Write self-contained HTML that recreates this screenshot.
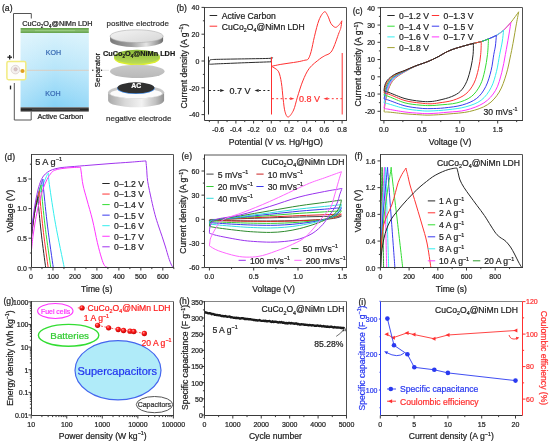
<!DOCTYPE html>
<html><head><meta charset="utf-8"><style>
html,body{margin:0;padding:0;background:#fff;}
body{width:550px;height:445px;overflow:hidden;}
svg{display:block;font-family:"Liberation Sans",sans-serif;filter:blur(0.35px);}
</style></head><body>
<svg width="550" height="445" viewBox="0 0 550 445" fill="#222">
<path d="M209.35,61.67C209.42,61.45 209.5,60.66 209.79,60.33C210.09,59.99 209.72,59.83 211.12,59.66C212.52,59.49 212.6,59.46 218.2,59.33C223.81,59.19 236.05,59.02 244.75,58.86C253.45,58.69 265.99,58.59 270.42,58.32C274.84,58.05 271.15,57.43 271.3,57.25" stroke="#2a2a2a" stroke-width="1" fill="none" />
<path d="M271.3,57.25C271.3,58.01 271.3,61.04 271.3,61.8" stroke="#2a2a2a" stroke-width="1" fill="none" />
<path d="M271.3,61.8C266.88,61.96 253.6,62.41 244.75,62.74C235.9,63.08 224.1,63.59 218.2,63.81C212.3,64.04 210.83,64.44 209.35,64.08C207.88,63.72 209.35,62.07 209.35,61.67" stroke="#2a2a2a" stroke-width="1" fill="none" />
<line x1="208.5" y1="56.5" x2="208.5" y2="114.5" stroke="#2a2a2a"/>
<path d="M271.3,66.36C272.78,66.05 277.2,65.02 280.15,64.48C283.1,63.95 286.05,63.59 289,63.14C291.95,62.7 295.2,62.3 297.85,61.8C300.5,61.31 303.2,60.66 304.93,60.2C306.66,59.73 307.17,60.42 308.2,58.99C309.24,57.56 310.08,55.39 311.12,51.62C312.17,47.85 313.18,41.61 314.49,36.34C315.8,31.07 317.35,24.08 319,20C320.65,15.91 322.91,12.47 324.4,11.82C325.89,11.17 326.83,14.14 327.94,16.11C329.05,18.08 329.78,21.74 331.04,23.61C332.29,25.49 334.06,27.23 335.46,27.37C336.86,27.5 338.38,25.51 339.44,24.42C340.51,23.32 341.44,21.4 341.83,20.8" stroke="#ff3030" stroke-width="1" fill="none" />
<path d="M341.83,20.8C341.66,22.03 341.24,26.18 340.77,28.17C340.3,30.16 340.49,28.93 339,32.73C337.51,36.52 334.27,47.09 331.83,50.95C329.4,54.81 326.45,54.55 324.4,55.91C322.35,57.27 322.04,57.07 319.53,59.12C317.03,61.18 312.14,64.6 309.36,68.24C306.57,71.88 304.8,76.14 302.81,80.97C300.81,85.79 298.94,92.33 297.41,97.18C295.87,102.03 295.12,106.74 293.6,110.04C292.08,113.35 289.72,116.72 288.29,117.01C286.86,117.3 285.87,114.78 285.02,111.79C284.16,108.79 283.76,103.9 283.16,99.06C282.55,94.21 282.14,87.24 281.39,82.71C280.64,78.17 279.88,74.36 278.65,71.85C277.41,69.35 275.18,68.62 273.95,67.7C272.73,66.78 271.74,66.58 271.3,66.36" stroke="#ff3030" stroke-width="1" fill="none" />
<line x1="271.5" y1="57" x2="271.5" y2="114.5" stroke="#ff3030"/>
<line x1="342.2" y1="53" x2="342.2" y2="114.5" stroke="#ff3030"/>
<line x1="209" y1="90.5" x2="220" y2="90.5" stroke="#222" stroke-dasharray="1.9,2.4"/>
<path d="M220.2,89.1 L224.4,90.5 L220.2,91.9 Z" stroke="none" stroke-width="0" fill="#222" />
<line x1="259" y1="90.5" x2="271" y2="90.5" stroke="#222" stroke-dasharray="1.9,2.4"/>
<path d="M258.7,89.1 L254.5,90.5 L258.7,91.9 Z" stroke="none" stroke-width="0" fill="#222" />
<text x="229.6" y="94.14" font-size="9" stroke="#222" stroke-width="0.22">0.7 V</text>
<line x1="272" y1="98.7" x2="290" y2="98.7" stroke="#ff3030" stroke-dasharray="1.9,2.4"/>
<path d="M290.2,97.3 L294.4,98.7 L290.2,100.1 Z" stroke="none" stroke-width="0" fill="#ff3030" />
<line x1="327.5" y1="98.7" x2="342" y2="98.7" stroke="#ff3030" stroke-dasharray="1.9,2.4"/>
<path d="M327.6,97.3 L323.4,98.7 L327.6,100.1 Z" stroke="none" stroke-width="0" fill="#ff3030" />
<text x="299" y="102.14" font-size="9" fill="#ff3030" stroke="#ff3030" stroke-width="0.22">0.8 V</text>
<line x1="209.6" y1="15.5" x2="217.2" y2="15.5" stroke="#2a2a2a"/>
<text x="221.8" y="18.9" font-size="8.6" stroke="#222" stroke-width="0.22">Active Carbon</text>
<line x1="209.6" y1="26.2" x2="217.2" y2="26.2" stroke="#ff3030"/>
<text x="221.8" y="29.5" font-size="8.6" stroke="#222" stroke-width="0.22">CuCo<tspan font-size="5.33" dy="2.41">2</tspan><tspan dy="-2.41">O</tspan><tspan font-size="5.33" dy="2.41">4</tspan><tspan dy="-2.41">@NiMn LDH</tspan></text>
<line x1="204.5" y1="7.5" x2="346.5" y2="7.5" stroke="#555"/>
<line x1="346.5" y1="7.5" x2="346.5" y2="120.5" stroke="#505050"/>
<line x1="204.5" y1="120.5" x2="347" y2="120.5" stroke="#3a3a3a"/>
<line x1="204.5" y1="7" x2="204.5" y2="120.5" stroke="#3a3a3a"/>
<line x1="218.2" y1="120.5" x2="218.2" y2="123.5" stroke="#3a3a3a"/>
<line x1="235.9" y1="120.5" x2="235.9" y2="123.5" stroke="#3a3a3a"/>
<line x1="253.6" y1="120.5" x2="253.6" y2="123.5" stroke="#3a3a3a"/>
<line x1="271.3" y1="120.5" x2="271.3" y2="123.5" stroke="#3a3a3a"/>
<line x1="289" y1="120.5" x2="289" y2="123.5" stroke="#3a3a3a"/>
<line x1="306.7" y1="120.5" x2="306.7" y2="123.5" stroke="#3a3a3a"/>
<line x1="324.4" y1="120.5" x2="324.4" y2="123.5" stroke="#3a3a3a"/>
<line x1="342.1" y1="120.5" x2="342.1" y2="123.5" stroke="#3a3a3a"/>
<line x1="209.35" y1="120.5" x2="209.35" y2="122.1" stroke="#3a3a3a"/>
<line x1="227.05" y1="120.5" x2="227.05" y2="122.1" stroke="#3a3a3a"/>
<line x1="244.75" y1="120.5" x2="244.75" y2="122.1" stroke="#3a3a3a"/>
<line x1="262.45" y1="120.5" x2="262.45" y2="122.1" stroke="#3a3a3a"/>
<line x1="280.15" y1="120.5" x2="280.15" y2="122.1" stroke="#3a3a3a"/>
<line x1="297.85" y1="120.5" x2="297.85" y2="122.1" stroke="#3a3a3a"/>
<line x1="315.55" y1="120.5" x2="315.55" y2="122.1" stroke="#3a3a3a"/>
<line x1="333.25" y1="120.5" x2="333.25" y2="122.1" stroke="#3a3a3a"/>
<line x1="204.5" y1="7.4" x2="201.5" y2="7.4" stroke="#3a3a3a"/>
<line x1="204.5" y1="34.2" x2="201.5" y2="34.2" stroke="#3a3a3a"/>
<line x1="204.5" y1="61" x2="201.5" y2="61" stroke="#3a3a3a"/>
<line x1="204.5" y1="87.8" x2="201.5" y2="87.8" stroke="#3a3a3a"/>
<line x1="204.5" y1="114.6" x2="201.5" y2="114.6" stroke="#3a3a3a"/>
<line x1="204.5" y1="20.8" x2="202.9" y2="20.8" stroke="#3a3a3a"/>
<line x1="204.5" y1="47.6" x2="202.9" y2="47.6" stroke="#3a3a3a"/>
<line x1="204.5" y1="74.4" x2="202.9" y2="74.4" stroke="#3a3a3a"/>
<line x1="204.5" y1="101.2" x2="202.9" y2="101.2" stroke="#3a3a3a"/>
<text x="0" y="0" font-size="7" text-anchor="middle" transform="translate(218.2 132.05) scale(1 1.13)" stroke="#222" stroke-width="0.22">-0.6</text>
<text x="0" y="0" font-size="7" text-anchor="middle" transform="translate(235.9 132.05) scale(1 1.13)" stroke="#222" stroke-width="0.22">-0.4</text>
<text x="0" y="0" font-size="7" text-anchor="middle" transform="translate(253.6 132.05) scale(1 1.13)" stroke="#222" stroke-width="0.22">-0.2</text>
<text x="0" y="0" font-size="7" text-anchor="middle" transform="translate(271.3 132.05) scale(1 1.13)" stroke="#222" stroke-width="0.22">0.0</text>
<text x="0" y="0" font-size="7" text-anchor="middle" transform="translate(289 132.05) scale(1 1.13)" stroke="#222" stroke-width="0.22">0.2</text>
<text x="0" y="0" font-size="7" text-anchor="middle" transform="translate(306.7 132.05) scale(1 1.13)" stroke="#222" stroke-width="0.22">0.4</text>
<text x="0" y="0" font-size="7" text-anchor="middle" transform="translate(324.4 132.05) scale(1 1.13)" stroke="#222" stroke-width="0.22">0.6</text>
<text x="0" y="0" font-size="7" text-anchor="middle" transform="translate(342.1 132.05) scale(1 1.13)" stroke="#222" stroke-width="0.22">0.8</text>
<text x="0" y="0" font-size="7" text-anchor="end" transform="translate(199.4 10.25) scale(1 1.13)" stroke="#222" stroke-width="0.22">40</text>
<text x="0" y="0" font-size="7" text-anchor="end" transform="translate(199.4 37.05) scale(1 1.13)" stroke="#222" stroke-width="0.22">20</text>
<text x="0" y="0" font-size="7" text-anchor="end" transform="translate(199.4 63.85) scale(1 1.13)" stroke="#222" stroke-width="0.22">0</text>
<text x="0" y="0" font-size="7" text-anchor="end" transform="translate(199.4 90.65) scale(1 1.13)" stroke="#222" stroke-width="0.22">-20</text>
<text x="0" y="0" font-size="7" text-anchor="end" transform="translate(199.4 117.45) scale(1 1.13)" stroke="#222" stroke-width="0.22">-40</text>
<text x="176.4" y="11" font-size="8.6" stroke="#222" stroke-width="0.22">(b)</text>
<text x="186.5" y="66" font-size="8.6" text-anchor="middle" fill="#222" transform="rotate(-90 186.5 66)" stroke="#222" stroke-width="0.22">Current density (A g<tspan font-size="5.33" dy="-3.61">−1</tspan><tspan dy="3.61">)</tspan></text>
<text x="275.9" y="145.2" font-size="8.6" text-anchor="middle" fill="#222" stroke="#222" stroke-width="0.22">Potential (V <tspan font-style="italic">vs.</tspan> Hg/HgO)</text>
<path d="M384,111.6C384.27,109.83 385.02,104.18 385.6,101C386.18,97.82 386.83,94.92 387.5,92.5C388.17,90.08 388.77,88.37 389.6,86.5C390.43,84.63 391.27,82.92 392.5,81.3C393.73,79.68 394.83,78.45 397,76.8C399.17,75.15 402.5,73.13 405.5,71.4C408.5,69.67 411.6,67.92 415,66.4C418.4,64.88 422.98,63.45 425.9,62.3C428.82,61.15 430.32,60.5 432.5,59.5C434.68,58.5 436.83,57.47 439,56.3C441.17,55.13 443.13,53.68 445.5,52.5C447.87,51.32 450.1,50.3 453.2,49.2C456.3,48.1 460.73,46.87 464.1,45.9C467.47,44.93 470.53,44.12 473.4,43.4C476.27,42.68 478.78,42.35 481.3,41.6C483.82,40.85 485.98,39.93 488.5,38.9C491.02,37.87 493.88,36.85 496.4,35.4C498.92,33.95 501.18,32.37 503.6,30.2C506.02,28.03 508.38,25.47 510.9,22.4C513.42,19.33 517.4,13.57 518.7,11.8" stroke="#a0a030" stroke-width="1" fill="none" />
<path d="M518.7,11.8C518.28,14 517.05,20.3 516.2,25C515.35,29.7 514.5,35.1 513.6,40C512.7,44.9 512.02,48.72 510.8,54.4C509.58,60.08 508.23,67.82 506.3,74.1C504.37,80.38 502.33,87 499.2,92.1C496.07,97.2 492.45,101.47 487.5,104.7C482.55,107.93 476.08,109.95 469.5,111.5C462.92,113.05 454.58,113.4 448,114C441.42,114.6 434.67,114.97 430,115.1C425.33,115.23 424.17,115.02 420,114.8C415.83,114.58 410.17,114.25 405,113.8C399.83,113.35 392.27,112.4 389,112.1C385.73,111.8 386.23,112.08 385.4,112C384.57,111.92 384.23,111.67 384,111.6" stroke="#a0a030" stroke-width="1" fill="none" />
<path d="M384,108.3C384.23,106.71 384.88,101.63 385.4,98.75C385.93,95.87 386.51,93.23 387.15,91.02C387.79,88.8 388.4,87.18 389.23,85.45C390.07,83.72 390.9,82.14 392.17,80.62C393.43,79.09 394.62,77.85 396.83,76.28C399.04,74.72 402.39,72.87 405.42,71.22C408.44,69.56 411.59,67.84 415,66.35C418.41,64.86 422.98,63.44 425.9,62.3C428.82,61.16 430.32,60.5 432.5,59.5C434.68,58.5 436.83,57.47 439,56.3C441.17,55.13 443.13,53.68 445.5,52.5C447.87,51.32 450.1,50.3 453.2,49.2C456.3,48.1 460.73,46.87 464.1,45.9C467.47,44.93 470.53,44.12 473.4,43.4C476.27,42.68 478.78,42.35 481.3,41.6C483.82,40.85 485.98,39.93 488.5,38.9C491.02,37.87 493.88,36.85 496.4,35.4C498.92,33.95 501.18,32.37 503.6,30.2C506.02,28.03 509.68,23.7 510.9,22.4" stroke="#ff33ff" stroke-width="1" fill="none" />
<path d="M510.9,22.4C510.53,24.67 509.62,30.67 508.7,36C507.78,41.33 506.55,48.35 505.4,54.4C504.25,60.45 503.43,66.32 501.8,72.3C500.17,78.28 498.58,85.2 495.6,90.3C492.62,95.4 488.85,99.6 483.9,102.9C478.95,106.2 471.88,108.55 465.9,110.1C459.92,111.65 453.98,111.62 448,112.2C442.02,112.78 434.67,113.42 430,113.6C425.33,113.78 424.17,113.57 420,113.3C415.83,113.03 410.17,112.67 405,112C399.83,111.33 392.27,109.85 389,109.3C385.73,108.75 386.23,108.87 385.4,108.7C384.57,108.53 384.23,108.37 384,108.3" stroke="#ff33ff" stroke-width="1" fill="none" />
<path d="M384,102.8C384.2,101.75 384.73,98.71 385.2,96.5C385.67,94.29 386.19,91.55 386.8,89.53C387.41,87.52 388.03,86 388.87,84.4C389.71,82.8 390.53,81.37 391.83,79.93C393.13,78.49 394.42,77.25 396.67,75.77C398.92,74.28 402.28,72.61 405.33,71.03C408.39,69.46 411.57,67.76 415,66.3C418.43,64.84 422.98,63.43 425.9,62.3C428.82,61.17 430.32,60.5 432.5,59.5C434.68,58.5 436.83,57.47 439,56.3C441.17,55.13 443.13,53.68 445.5,52.5C447.87,51.32 450.1,50.3 453.2,49.2C456.3,48.1 460.73,46.87 464.1,45.9C467.47,44.93 470.53,44.12 473.4,43.4C476.27,42.68 478.78,42.35 481.3,41.6C483.82,40.85 485.98,39.93 488.5,38.9C491.02,37.87 493.88,36.85 496.4,35.4C498.92,33.95 502.4,31.07 503.6,30.2" stroke="#33eeee" stroke-width="1" fill="none" />
<path d="M503.6,30.2C503.37,32.17 502.85,37.97 502.2,42C501.55,46.03 500.65,49.5 499.7,54.4C498.75,59.3 497.93,65.87 496.5,71.4C495.07,76.93 493.65,82.8 491.1,87.6C488.55,92.4 485.4,97 481.2,100.2C477,103.4 471.43,105.22 465.9,106.8C460.37,108.38 453.98,109 448,109.7C442.02,110.4 434.67,110.85 430,111C425.33,111.15 424.17,111 420,110.6C415.83,110.2 410.17,109.7 405,108.6C399.83,107.5 392.27,104.9 389,104C385.73,103.1 386.23,103.4 385.4,103.2C384.57,103 384.23,102.87 384,102.8" stroke="#33eeee" stroke-width="1" fill="none" />
<path d="M384,98.8C384.17,98.04 384.59,96.04 385,94.25C385.41,92.46 385.87,89.87 386.45,88.05C387.03,86.23 387.66,84.82 388.5,83.35C389.34,81.88 390.17,80.6 391.5,79.25C392.83,77.9 394.21,76.65 396.5,75.25C398.79,73.85 402.17,72.35 405.25,70.85C408.33,69.35 411.56,67.67 415,66.25C418.44,64.83 422.98,63.42 425.9,62.3C428.82,61.17 430.32,60.5 432.5,59.5C434.68,58.5 436.83,57.47 439,56.3C441.17,55.13 443.13,53.68 445.5,52.5C447.87,51.32 450.1,50.3 453.2,49.2C456.3,48.1 460.73,46.87 464.1,45.9C467.47,44.93 470.53,44.12 473.4,43.4C476.27,42.68 478.78,42.35 481.3,41.6C483.82,40.85 485.98,39.93 488.5,38.9C491.02,37.87 495.08,35.98 496.4,35.4" stroke="#3a3aee" stroke-width="1" fill="none" />
<path d="M496.4,35.4C496.23,37.17 495.83,42.83 495.4,46C494.97,49.17 494.52,50.32 493.8,54.4C493.08,58.48 492.45,65.12 491.1,70.5C489.75,75.88 488.1,82.05 485.7,86.7C483.3,91.35 480.6,95.35 476.7,98.4C472.8,101.45 467.68,103.42 462.3,105C456.92,106.58 449.78,107.3 444.4,107.9C439.02,108.5 434.07,108.55 430,108.6C425.93,108.65 424.17,108.65 420,108.2C415.83,107.75 410.17,107.22 405,105.9C399.83,104.58 392.27,101.42 389,100.3C385.73,99.18 386.23,99.45 385.4,99.2C384.57,98.95 384.23,98.87 384,98.8" stroke="#3a3aee" stroke-width="1" fill="none" />
<path d="M384,95.3C384.13,94.75 384.45,93.46 384.8,92C385.15,90.54 385.54,88.18 386.1,86.57C386.66,84.95 387.29,83.63 388.13,82.3C388.98,80.97 389.8,79.83 391.17,78.57C392.53,77.31 394,76.05 396.33,74.73C398.67,73.42 402.06,72.09 405.17,70.67C408.28,69.24 411.54,67.59 415,66.2C418.46,64.81 422.98,63.42 425.9,62.3C428.82,61.18 430.32,60.5 432.5,59.5C434.68,58.5 436.83,57.47 439,56.3C441.17,55.13 443.13,53.68 445.5,52.5C447.87,51.32 450.1,50.3 453.2,49.2C456.3,48.1 460.73,46.87 464.1,45.9C467.47,44.93 470.53,44.12 473.4,43.4C476.27,42.68 478.78,42.35 481.3,41.6C483.82,40.85 487.3,39.35 488.5,38.9" stroke="#33dd33" stroke-width="1" fill="none" />
<path d="M488.5,38.9C488.33,41.48 488.12,49.13 487.5,54.4C486.88,59.67 486,65.42 484.8,70.5C483.6,75.58 482.55,80.55 480.3,84.9C478.05,89.25 475.2,93.6 471.3,96.6C467.4,99.6 462.28,101.5 456.9,102.9C451.52,104.3 443.48,104.55 439,105C434.52,105.45 433.17,105.58 430,105.6C426.83,105.62 424.17,105.55 420,105.1C415.83,104.65 410.17,104.32 405,102.9C399.83,101.48 392.27,97.8 389,96.6C385.73,95.4 386.23,95.92 385.4,95.7C384.57,95.48 384.23,95.37 384,95.3" stroke="#33dd33" stroke-width="1" fill="none" />
<path d="M384,92.8C384.1,92.29 384.31,91.04 384.6,89.75C384.89,88.46 385.22,86.5 385.75,85.08C386.28,83.67 386.92,82.45 387.77,81.25C388.61,80.05 389.43,79.06 390.83,77.88C392.23,76.71 393.79,75.45 396.17,74.22C398.54,72.98 401.94,71.83 405.08,70.48C408.22,69.14 411.53,67.51 415,66.15C418.47,64.79 422.98,63.41 425.9,62.3C428.82,61.19 430.32,60.5 432.5,59.5C434.68,58.5 436.83,57.47 439,56.3C441.17,55.13 443.13,53.68 445.5,52.5C447.87,51.32 450.1,50.3 453.2,49.2C456.3,48.1 460.73,46.87 464.1,45.9C467.47,44.93 470.53,44.12 473.4,43.4C476.27,42.68 479.98,41.9 481.3,41.6" stroke="#ff3333" stroke-width="1" fill="none" />
<path d="M481.3,41.6C481.2,43.73 481.17,49.88 480.7,54.4C480.23,58.92 479.62,63.92 478.5,68.7C477.38,73.48 476.1,78.9 474,83.1C471.9,87.3 469.33,91.05 465.9,93.9C462.47,96.75 457.88,98.7 453.4,100.2C448.92,101.7 442.9,102.3 439,102.9C435.1,103.5 433.17,103.78 430,103.8C426.83,103.82 424.17,103.53 420,103C415.83,102.47 410.17,102.07 405,100.6C399.83,99.13 392.27,95.43 389,94.2C385.73,92.97 386.23,93.43 385.4,93.2C384.57,92.97 384.23,92.87 384,92.8" stroke="#ff3333" stroke-width="1" fill="none" />
<path d="M384,91C384.07,90.42 384.17,88.73 384.4,87.5C384.63,86.27 384.9,84.82 385.4,83.6C385.9,82.38 386.55,81.27 387.4,80.2C388.25,79.13 389.07,78.28 390.5,77.2C391.93,76.12 393.58,74.85 396,73.7C398.42,72.55 401.83,71.57 405,70.3C408.17,69.03 411.52,67.43 415,66.1C418.48,64.77 422.98,63.4 425.9,62.3C428.82,61.2 430.32,60.5 432.5,59.5C434.68,58.5 436.83,57.47 439,56.3C441.17,55.13 443.13,53.68 445.5,52.5C447.87,51.32 450.1,50.3 453.2,49.2C456.3,48.1 460.73,46.87 464.1,45.9C467.47,44.93 471.85,43.82 473.4,43.4" stroke="#262626" stroke-width="1" fill="none" />
<path d="M473.4,43.4C473.35,45.23 473.5,50.47 473.1,54.4C472.7,58.33 472.05,62.52 471,67C469.95,71.48 468.55,77.27 466.8,81.3C465.05,85.33 463.03,88.65 460.5,91.2C457.97,93.75 455.18,95.1 451.6,96.6C448.02,98.1 442.6,99.37 439,100.2C435.4,101.03 433.17,101.43 430,101.6C426.83,101.77 424.17,101.7 420,101.2C415.83,100.7 410.17,100.05 405,98.6C399.83,97.15 392.27,93.7 389,92.5C385.73,91.3 386.23,91.65 385.4,91.4C384.57,91.15 384.23,91.07 384,91" stroke="#262626" stroke-width="1" fill="none" />
<line x1="380.5" y1="7.5" x2="522.5" y2="7.5" stroke="#555"/>
<line x1="522.5" y1="7.5" x2="522.5" y2="120.5" stroke="#505050"/>
<line x1="380.5" y1="120.5" x2="523" y2="120.5" stroke="#3a3a3a"/>
<line x1="380.5" y1="7" x2="380.5" y2="120.5" stroke="#3a3a3a"/>
<line x1="383.9" y1="120.5" x2="383.9" y2="123.5" stroke="#3a3a3a"/>
<line x1="421.83" y1="120.5" x2="421.83" y2="123.5" stroke="#3a3a3a"/>
<line x1="459.77" y1="120.5" x2="459.77" y2="123.5" stroke="#3a3a3a"/>
<line x1="497.7" y1="120.5" x2="497.7" y2="123.5" stroke="#3a3a3a"/>
<line x1="402.87" y1="120.5" x2="402.87" y2="122.1" stroke="#3a3a3a"/>
<line x1="440.8" y1="120.5" x2="440.8" y2="122.1" stroke="#3a3a3a"/>
<line x1="478.74" y1="120.5" x2="478.74" y2="122.1" stroke="#3a3a3a"/>
<line x1="516.67" y1="120.5" x2="516.67" y2="122.1" stroke="#3a3a3a"/>
<line x1="380.5" y1="7.8" x2="377.5" y2="7.8" stroke="#3a3a3a"/>
<line x1="380.5" y1="25.05" x2="377.5" y2="25.05" stroke="#3a3a3a"/>
<line x1="380.5" y1="42.3" x2="377.5" y2="42.3" stroke="#3a3a3a"/>
<line x1="380.5" y1="59.55" x2="377.5" y2="59.55" stroke="#3a3a3a"/>
<line x1="380.5" y1="76.8" x2="377.5" y2="76.8" stroke="#3a3a3a"/>
<line x1="380.5" y1="94.05" x2="377.5" y2="94.05" stroke="#3a3a3a"/>
<line x1="380.5" y1="111.3" x2="377.5" y2="111.3" stroke="#3a3a3a"/>
<line x1="380.5" y1="16.42" x2="378.9" y2="16.42" stroke="#3a3a3a"/>
<line x1="380.5" y1="33.67" x2="378.9" y2="33.67" stroke="#3a3a3a"/>
<line x1="380.5" y1="50.92" x2="378.9" y2="50.92" stroke="#3a3a3a"/>
<line x1="380.5" y1="68.17" x2="378.9" y2="68.17" stroke="#3a3a3a"/>
<line x1="380.5" y1="85.42" x2="378.9" y2="85.42" stroke="#3a3a3a"/>
<line x1="380.5" y1="102.67" x2="378.9" y2="102.67" stroke="#3a3a3a"/>
<text x="0" y="0" font-size="7" text-anchor="middle" transform="translate(383.9 132.05) scale(1 1.13)" stroke="#222" stroke-width="0.22">0.0</text>
<text x="0" y="0" font-size="7" text-anchor="middle" transform="translate(421.83 132.05) scale(1 1.13)" stroke="#222" stroke-width="0.22">0.5</text>
<text x="0" y="0" font-size="7" text-anchor="middle" transform="translate(459.77 132.05) scale(1 1.13)" stroke="#222" stroke-width="0.22">1.0</text>
<text x="0" y="0" font-size="7" text-anchor="middle" transform="translate(497.7 132.05) scale(1 1.13)" stroke="#222" stroke-width="0.22">1.5</text>
<text x="0" y="0" font-size="7" text-anchor="end" transform="translate(375 10.65) scale(1 1.13)" stroke="#222" stroke-width="0.22">40</text>
<text x="0" y="0" font-size="7" text-anchor="end" transform="translate(375 27.9) scale(1 1.13)" stroke="#222" stroke-width="0.22">30</text>
<text x="0" y="0" font-size="7" text-anchor="end" transform="translate(375 45.15) scale(1 1.13)" stroke="#222" stroke-width="0.22">20</text>
<text x="0" y="0" font-size="7" text-anchor="end" transform="translate(375 62.4) scale(1 1.13)" stroke="#222" stroke-width="0.22">10</text>
<text x="0" y="0" font-size="7" text-anchor="end" transform="translate(375 79.65) scale(1 1.13)" stroke="#222" stroke-width="0.22">0</text>
<text x="0" y="0" font-size="7" text-anchor="end" transform="translate(375 96.9) scale(1 1.13)" stroke="#222" stroke-width="0.22">-10</text>
<text x="0" y="0" font-size="7" text-anchor="end" transform="translate(375 114.15) scale(1 1.13)" stroke="#222" stroke-width="0.22">-20</text>
<text x="352.7" y="14" font-size="8.6" stroke="#222" stroke-width="0.22">(c)</text>
<text x="361.3" y="64" font-size="8.6" text-anchor="middle" fill="#222" transform="rotate(-90 361.3 64)" stroke="#222" stroke-width="0.22">Current density (A g<tspan font-size="5.33" dy="-3.61">−1</tspan><tspan dy="3.61">)</tspan></text>
<text x="450" y="145.2" font-size="8.6" text-anchor="middle" fill="#222" stroke="#222" stroke-width="0.22">Voltage (V)</text>
<line x1="387.3" y1="15.5" x2="394.7" y2="15.5" stroke="#262626"/>
<text x="399" y="18.9" font-size="8.6" stroke="#222" stroke-width="0.22">0−1.2 V</text>
<line x1="431.8" y1="15.5" x2="439.2" y2="15.5" stroke="#ff3333"/>
<text x="443.5" y="18.9" font-size="8.6" stroke="#222" stroke-width="0.22">0−1.3 V</text>
<line x1="387.3" y1="26.2" x2="394.7" y2="26.2" stroke="#33dd33"/>
<text x="399" y="29.6" font-size="8.6" stroke="#222" stroke-width="0.22">0−1.4 V</text>
<line x1="431.8" y1="26.2" x2="439.2" y2="26.2" stroke="#3a3aee"/>
<text x="443.5" y="29.6" font-size="8.6" stroke="#222" stroke-width="0.22">0−1.5 V</text>
<line x1="387.3" y1="36.9" x2="394.7" y2="36.9" stroke="#33eeee"/>
<text x="399" y="40.3" font-size="8.6" stroke="#222" stroke-width="0.22">0−1.6 V</text>
<line x1="431.8" y1="36.9" x2="439.2" y2="36.9" stroke="#ff33ff"/>
<text x="443.5" y="40.3" font-size="8.6" stroke="#222" stroke-width="0.22">0−1.7 V</text>
<line x1="387.3" y1="47.6" x2="394.7" y2="47.6" stroke="#a0a030"/>
<text x="399" y="51" font-size="8.6" stroke="#222" stroke-width="0.22">0−1.8 V</text>
<text x="483.5" y="115.1" font-size="8.6" stroke="#222" stroke-width="0.22">30 mVs<tspan font-size="5.33" dy="-3.61">-1</tspan><tspan dy="3.61"></tspan></text>
<path d="M31.6,226C32.86,220.88 36.7,203.54 39.16,195.31C41.62,187.07 44.84,180.28 46.38,176.58C47.92,172.88 48.06,173.66 48.4,173.08" stroke="#33eeee" stroke-width="1" fill="none" />
<path d="M48.4,173.08C48.56,174.97 48.16,175.92 49.35,184.45C50.55,192.97 53.06,210.34 55.55,224.23C58.05,238.12 62.84,260.54 64.3,267.8" stroke="#33eeee" stroke-width="1" fill="none" />
<path d="M31.6,229C32.45,224.17 35.06,207.75 36.73,200C38.4,192.25 40.59,186 41.63,182.5C42.68,179 42.77,179.58 43,179" stroke="#3a3aee" stroke-width="1" fill="none" />
<path d="M43,179C43.1,180.78 42.85,181.66 43.62,189.66C44.39,197.65 46.02,213.93 47.63,226.95C49.25,239.98 52.36,260.99 53.3,267.8" stroke="#3a3aee" stroke-width="1" fill="none" />
<path d="M31.6,232C32.32,227.45 34.51,211.96 35.92,204.69C37.33,197.43 39.17,191.72 40.05,188.42C40.93,185.12 41.01,185.5 41.2,184.92" stroke="#33dd33" stroke-width="1" fill="none" />
<path d="M41.2,184.92C41.3,186.58 41.06,187.41 41.78,194.87C42.5,202.32 44.02,217.52 45.52,229.68C47.02,241.83 49.92,261.45 50.8,267.8" stroke="#33dd33" stroke-width="1" fill="none" />
<path d="M31.6,234C32.2,229.83 34.03,215.58 35.2,208.97C36.37,202.36 37.91,197.36 38.64,194.34C39.37,191.32 39.44,191.42 39.6,190.84" stroke="#ff3333" stroke-width="1" fill="none" />
<path d="M39.6,190.84C39.69,192.38 39.47,193.15 40.12,200.08C40.76,207 42.12,221.11 43.47,232.4C44.82,243.69 47.41,261.9 48.2,267.8" stroke="#ff3333" stroke-width="1" fill="none" />
<path d="M31.6,236C32.08,232.21 33.54,219.2 34.48,213.24C35.42,207.28 36.65,203.01 37.23,200.26C37.82,197.51 37.87,197.34 38,196.76" stroke="#262626" stroke-width="1" fill="none" />
<path d="M38,196.76C38.08,198.18 37.88,198.89 38.46,205.28C39.04,211.68 40.26,224.7 41.47,235.12C42.67,245.54 44.99,262.35 45.7,267.8" stroke="#262626" stroke-width="1" fill="none" />
<path d="M31.6,236C31.73,234 32.03,228 32.4,224C32.77,220 33.23,216 33.8,212C34.37,208 35.07,203.83 35.8,200C36.53,196.17 37.37,192.17 38.2,189C39.03,185.83 39.92,183.17 40.8,181C41.68,178.83 42.38,177.47 43.5,176C44.62,174.53 46,173.27 47.5,172.2C49,171.13 50.42,170.33 52.5,169.6C54.58,168.87 57.08,168.27 60,167.8C62.92,167.33 65,167.23 70,166.8C75,166.37 83.33,165.73 90,165.2C96.67,164.67 103.33,164.1 110,163.6C116.67,163.1 124.02,162.65 130,162.2C135.98,161.75 143.25,161.12 145.9,160.9" stroke="#a033ee" stroke-width="1" fill="none" />
<path d="M145.9,160.9C146.02,162.08 146.3,164.58 146.6,168C146.9,171.42 146.9,176.15 147.7,181.4C148.5,186.65 150.18,193.95 151.4,199.5C152.62,205.05 153.82,210.28 155,214.7C156.18,219.12 157.33,222.42 158.5,226C159.67,229.58 160.83,232.7 162,236.2C163.17,239.7 164.4,243.45 165.5,247C166.6,250.55 167.68,254.67 168.6,257.5C169.52,260.33 170.3,262.38 171,264C171.7,265.62 172.5,266.67 172.8,267.2" stroke="#a033ee" stroke-width="1" fill="none" />
<path d="M31.6,249C31.83,246.83 32.43,240.33 33,236C33.57,231.67 34.25,227.33 35,223C35.75,218.67 36.68,213.83 37.5,210C38.32,206.17 38.98,203.5 39.9,200C40.82,196.5 41.82,192.42 43,189C44.18,185.58 45.57,182.25 47,179.5C48.43,176.75 50.1,174.12 51.6,172.5C53.1,170.88 53.93,170.5 56,169.8C58.07,169.1 61.33,168.67 64,168.3C66.67,167.93 69.25,167.78 72,167.6C74.75,167.42 79.08,167.27 80.5,167.2" stroke="#ff33ff" stroke-width="1" fill="none" />
<path d="M80.5,167.2C80.62,168 80.78,169.03 81.2,172C81.62,174.97 82.03,180.33 83,185C83.97,189.67 85.42,194.17 87,200C88.58,205.83 90.77,212.88 92.5,220C94.23,227.12 95.9,236.37 97.4,242.7C98.9,249.03 100.32,254.2 101.5,258C102.68,261.8 103.42,263.9 104.5,265.5C105.58,267.1 107.42,267.25 108,267.6" stroke="#ff33ff" stroke-width="1" fill="none" />
<line x1="31.5" y1="154.5" x2="173.5" y2="154.5" stroke="#555"/>
<line x1="173.5" y1="154.5" x2="173.5" y2="267.5" stroke="#505050"/>
<line x1="31.5" y1="267.5" x2="174" y2="267.5" stroke="#3a3a3a"/>
<line x1="31.5" y1="154" x2="31.5" y2="267.5" stroke="#3a3a3a"/>
<line x1="31" y1="267.5" x2="31" y2="270.5" stroke="#3a3a3a"/>
<line x1="52.97" y1="267.5" x2="52.97" y2="270.5" stroke="#3a3a3a"/>
<line x1="74.94" y1="267.5" x2="74.94" y2="270.5" stroke="#3a3a3a"/>
<line x1="96.91" y1="267.5" x2="96.91" y2="270.5" stroke="#3a3a3a"/>
<line x1="118.88" y1="267.5" x2="118.88" y2="270.5" stroke="#3a3a3a"/>
<line x1="140.85" y1="267.5" x2="140.85" y2="270.5" stroke="#3a3a3a"/>
<line x1="162.82" y1="267.5" x2="162.82" y2="270.5" stroke="#3a3a3a"/>
<line x1="41.98" y1="267.5" x2="41.98" y2="269.1" stroke="#3a3a3a"/>
<line x1="63.95" y1="267.5" x2="63.95" y2="269.1" stroke="#3a3a3a"/>
<line x1="85.93" y1="267.5" x2="85.93" y2="269.1" stroke="#3a3a3a"/>
<line x1="107.89" y1="267.5" x2="107.89" y2="269.1" stroke="#3a3a3a"/>
<line x1="129.87" y1="267.5" x2="129.87" y2="269.1" stroke="#3a3a3a"/>
<line x1="151.84" y1="267.5" x2="151.84" y2="269.1" stroke="#3a3a3a"/>
<line x1="173.81" y1="267.5" x2="173.81" y2="269.1" stroke="#3a3a3a"/>
<line x1="31.5" y1="267.8" x2="28.5" y2="267.8" stroke="#3a3a3a"/>
<line x1="31.5" y1="238.2" x2="28.5" y2="238.2" stroke="#3a3a3a"/>
<line x1="31.5" y1="208.6" x2="28.5" y2="208.6" stroke="#3a3a3a"/>
<line x1="31.5" y1="179" x2="28.5" y2="179" stroke="#3a3a3a"/>
<line x1="31.5" y1="253" x2="29.9" y2="253" stroke="#3a3a3a"/>
<line x1="31.5" y1="223.4" x2="29.9" y2="223.4" stroke="#3a3a3a"/>
<line x1="31.5" y1="193.8" x2="29.9" y2="193.8" stroke="#3a3a3a"/>
<line x1="31.5" y1="164.2" x2="29.9" y2="164.2" stroke="#3a3a3a"/>
<text x="0" y="0" font-size="7" text-anchor="middle" transform="translate(31 279.35) scale(1 1.13)" stroke="#222" stroke-width="0.22">0</text>
<text x="0" y="0" font-size="7" text-anchor="middle" transform="translate(52.97 279.35) scale(1 1.13)" stroke="#222" stroke-width="0.22">100</text>
<text x="0" y="0" font-size="7" text-anchor="middle" transform="translate(74.94 279.35) scale(1 1.13)" stroke="#222" stroke-width="0.22">200</text>
<text x="0" y="0" font-size="7" text-anchor="middle" transform="translate(96.91 279.35) scale(1 1.13)" stroke="#222" stroke-width="0.22">300</text>
<text x="0" y="0" font-size="7" text-anchor="middle" transform="translate(118.88 279.35) scale(1 1.13)" stroke="#222" stroke-width="0.22">400</text>
<text x="0" y="0" font-size="7" text-anchor="middle" transform="translate(140.85 279.35) scale(1 1.13)" stroke="#222" stroke-width="0.22">500</text>
<text x="0" y="0" font-size="7" text-anchor="middle" transform="translate(162.82 279.35) scale(1 1.13)" stroke="#222" stroke-width="0.22">600</text>
<text x="0" y="0" font-size="7" text-anchor="end" transform="translate(26.9 270.65) scale(1 1.13)" stroke="#222" stroke-width="0.22">0.0</text>
<text x="0" y="0" font-size="7" text-anchor="end" transform="translate(26.9 241.05) scale(1 1.13)" stroke="#222" stroke-width="0.22">0.5</text>
<text x="0" y="0" font-size="7" text-anchor="end" transform="translate(26.9 211.45) scale(1 1.13)" stroke="#222" stroke-width="0.22">1.0</text>
<text x="0" y="0" font-size="7" text-anchor="end" transform="translate(26.9 181.85) scale(1 1.13)" stroke="#222" stroke-width="0.22">1.5</text>
<text x="4.5" y="159.9" font-size="8.6" stroke="#222" stroke-width="0.22">(d)</text>
<text x="12.9" y="211" font-size="8.6" text-anchor="middle" fill="#222" transform="rotate(-90 12.9 211)" stroke="#222" stroke-width="0.22">Voltage (V)</text>
<text x="96.7" y="291.7" font-size="8.6" text-anchor="middle" fill="#222" stroke="#222" stroke-width="0.22">Time (s)</text>
<text x="35.2" y="165.01" font-size="9.2" stroke="#222" stroke-width="0.22">5 A g<tspan font-size="5.7" dy="-3.86">−1</tspan><tspan dy="3.86"></tspan></text>
<line x1="102.3" y1="183.5" x2="109.7" y2="183.5" stroke="#262626"/>
<text x="114.1" y="186.9" font-size="8.6" stroke="#222" stroke-width="0.22">0−1.2 V</text>
<line x1="102.3" y1="194.05" x2="109.7" y2="194.05" stroke="#ff3333"/>
<text x="114.1" y="197.45" font-size="8.6" stroke="#222" stroke-width="0.22">0−1.3 V</text>
<line x1="102.3" y1="204.6" x2="109.7" y2="204.6" stroke="#33dd33"/>
<text x="114.1" y="208" font-size="8.6" stroke="#222" stroke-width="0.22">0−1.4 V</text>
<line x1="102.3" y1="215.15" x2="109.7" y2="215.15" stroke="#3a3aee"/>
<text x="114.1" y="218.55" font-size="8.6" stroke="#222" stroke-width="0.22">0−1.5 V</text>
<line x1="102.3" y1="225.7" x2="109.7" y2="225.7" stroke="#33eeee"/>
<text x="114.1" y="229.1" font-size="8.6" stroke="#222" stroke-width="0.22">0−1.6 V</text>
<line x1="102.3" y1="236.25" x2="109.7" y2="236.25" stroke="#ff33ff"/>
<text x="114.1" y="239.65" font-size="8.6" stroke="#222" stroke-width="0.22">0−1.7 V</text>
<line x1="102.3" y1="246.8" x2="109.7" y2="246.8" stroke="#a033ee"/>
<text x="114.1" y="250.2" font-size="8.6" stroke="#222" stroke-width="0.22">0−1.8 V</text>
<path d="M209.4,220.2C209.47,220.13 209.55,219.91 209.84,219.8C210.14,219.69 209.77,219.61 211.17,219.53C212.57,219.46 213.39,219.51 218.26,219.37C223.13,219.23 231.85,218.96 240.41,218.71C248.97,218.46 259.75,218.15 269.65,217.86C279.54,217.58 290.62,217.23 299.77,216.99C308.93,216.75 317.64,216.59 324.58,216.43C331.52,216.26 338.61,216.08 341.41,216.02" stroke="#444444" stroke-width="1" fill="none" />
<path d="M341.41,216.02C341.24,216.13 340.94,216.46 340.35,216.72C339.76,216.98 339.02,217.28 337.87,217.56C336.72,217.84 335.36,218.14 333.44,218.42C331.52,218.7 329.31,218.99 326.35,219.23C323.4,219.48 320.15,219.66 315.72,219.88C311.29,220.09 304.94,220.34 299.77,220.5C294.6,220.67 289.58,220.79 284.71,220.87C279.84,220.95 275.7,221 270.53,221.01C265.37,221.02 258.72,220.97 253.7,220.93C248.68,220.9 245.58,220.86 240.41,220.79C235.24,220.71 227.42,220.59 222.69,220.5C217.96,220.42 214.27,220.34 212.06,220.29C209.84,220.24 209.84,220.22 209.4,220.2" stroke="#444444" stroke-width="1" fill="none" />
<path d="M209.4,220.41C209.47,220.31 209.55,219.97 209.84,219.81C210.14,219.65 209.77,219.53 211.17,219.46C212.57,219.4 213.39,219.59 218.26,219.41C223.13,219.23 231.85,218.76 240.41,218.37C248.97,217.97 259.75,217.47 269.65,217.02C279.54,216.56 290.62,216.01 299.77,215.63C308.93,215.25 317.64,214.99 324.58,214.74C331.52,214.48 338.61,214.19 341.41,214.08" stroke="#dd2222" stroke-width="1" fill="none" />
<path d="M341.41,214.08C341.24,214.25 340.94,214.69 340.35,215.06C339.76,215.44 339.02,215.89 337.87,216.34C336.72,216.79 335.36,217.3 333.44,217.76C331.52,218.22 329.31,218.74 326.35,219.12C323.4,219.49 320.15,219.73 315.72,220.01C311.29,220.29 304.94,220.58 299.77,220.78C294.6,220.99 289.58,221.13 284.71,221.23C279.84,221.34 275.7,221.39 270.53,221.4C265.37,221.41 258.72,221.35 253.7,221.31C248.68,221.26 245.58,221.22 240.41,221.13C235.24,221.04 227.42,220.88 222.69,220.78C217.96,220.68 214.27,220.59 212.06,220.52C209.84,220.46 209.84,220.43 209.4,220.41" stroke="#dd2222" stroke-width="1" fill="none" />
<path d="M209.4,221.45C209.47,221.28 209.55,220.71 209.84,220.44C210.14,220.16 209.77,219.95 211.17,219.79C212.57,219.63 213.39,219.81 218.26,219.48C223.13,219.14 231.85,218.43 240.41,217.78C248.97,217.13 259.75,216.32 269.65,215.58C279.54,214.84 290.62,213.93 299.77,213.31C308.93,212.69 317.64,212.28 324.58,211.86C331.52,211.44 338.61,210.98 341.41,210.8" stroke="#33cc33" stroke-width="1" fill="none" />
<path d="M341.41,210.8C341.24,211.09 340.94,211.89 340.35,212.54C339.76,213.19 339.02,213.95 337.87,214.69C336.72,215.42 335.36,216.21 333.44,216.95C331.52,217.68 329.31,218.47 326.35,219.09C323.4,219.71 320.15,220.16 315.72,220.67C311.29,221.19 304.94,221.77 299.77,222.17C294.6,222.56 289.58,222.84 284.71,223.04C279.84,223.24 275.7,223.34 270.53,223.37C265.37,223.39 258.72,223.28 253.7,223.19C248.68,223.11 245.58,223.01 240.41,222.84C235.24,222.67 227.42,222.37 222.69,222.17C217.96,221.97 214.27,221.79 212.06,221.67C209.84,221.55 209.84,221.48 209.4,221.45" stroke="#33cc33" stroke-width="1" fill="none" />
<path d="M209.4,222.48C209.47,222.25 209.55,221.47 209.84,221.08C210.14,220.69 209.77,220.39 211.17,220.13C212.57,219.87 213.39,220.03 218.26,219.54C223.13,219.06 231.85,218.11 240.41,217.22C248.97,216.34 259.75,215.24 269.65,214.23C279.54,213.21 290.62,211.98 299.77,211.14C308.93,210.29 317.64,209.73 324.58,209.16C331.52,208.59 338.61,207.95 341.41,207.71" stroke="#3a3aee" stroke-width="1" fill="none" />
<path d="M341.41,207.71C341.24,208.12 340.94,209.28 340.35,210.19C339.76,211.1 339.02,212.16 337.87,213.16C336.72,214.17 335.36,215.22 333.44,216.21C331.52,217.19 329.31,218.21 326.35,219.07C323.4,219.92 320.15,220.59 315.72,221.34C311.29,222.08 304.94,222.97 299.77,223.56C294.6,224.14 289.58,224.56 284.71,224.85C279.84,225.15 275.7,225.3 270.53,225.34C265.37,225.37 258.72,225.21 253.7,225.08C248.68,224.95 245.58,224.81 240.41,224.56C235.24,224.31 227.42,223.85 222.69,223.56C217.96,223.27 214.27,223 212.06,222.82C209.84,222.64 209.84,222.54 209.4,222.48" stroke="#3a3aee" stroke-width="1" fill="none" />
<path d="M209.4,223.87C209.47,223.56 209.55,222.57 209.84,222.04C210.14,221.51 209.77,221.1 211.17,220.69C212.57,220.29 213.39,220.28 218.26,219.61C223.13,218.94 231.85,217.79 240.41,216.67C248.97,215.55 259.75,214.16 269.65,212.88C279.54,211.59 290.62,210.03 299.77,208.96C308.93,207.89 317.64,207.18 324.58,206.45C331.52,205.73 338.61,204.92 341.41,204.62" stroke="#33dddd" stroke-width="1" fill="none" />
<path d="M341.41,204.62C341.24,205.18 340.94,206.79 340.35,207.99C339.76,209.2 339.02,210.58 337.87,211.85C336.72,213.12 335.36,214.41 333.44,215.62C331.52,216.84 329.31,218.04 326.35,219.14C323.4,220.24 320.15,221.18 315.72,222.22C311.29,223.27 304.94,224.57 299.77,225.41C294.6,226.25 289.58,226.84 284.71,227.27C279.84,227.69 275.7,227.91 270.53,227.96C265.37,228.01 258.72,227.77 253.7,227.59C248.68,227.4 245.58,227.21 240.41,226.84C235.24,226.48 227.42,225.83 222.69,225.41C217.96,224.99 214.27,224.6 212.06,224.35C209.84,224.09 209.84,223.95 209.4,223.87" stroke="#33dddd" stroke-width="1" fill="none" />
<path d="M209.4,226.22C209.47,225.81 209.55,224.48 209.84,223.73C210.14,222.98 209.77,222.39 211.17,221.72C212.57,221.04 213.39,220.68 218.26,219.7C223.13,218.72 231.85,217.31 240.41,215.84C248.97,214.36 259.75,212.54 269.65,210.85C279.54,209.16 290.62,207.1 299.77,205.7C308.93,204.29 317.64,203.35 324.58,202.4C331.52,201.44 338.61,200.38 341.41,199.98" stroke="#2e8b2e" stroke-width="1" fill="none" />
<path d="M341.41,199.98C341.24,200.79 340.94,203.13 340.35,204.81C339.76,206.49 339.02,208.37 337.87,210.04C336.72,211.72 335.36,213.33 333.44,214.87C331.52,216.42 329.31,217.82 326.35,219.3C323.4,220.78 320.15,222.18 315.72,223.73C311.29,225.27 304.94,227.28 299.77,228.56C294.6,229.83 289.58,230.73 284.71,231.38C279.84,232.02 275.7,232.34 270.53,232.42C265.37,232.5 258.72,232.14 253.7,231.86C248.68,231.58 245.58,231.28 240.41,230.73C235.24,230.18 227.42,229.19 222.69,228.56C217.96,227.93 214.27,227.34 212.06,226.95C209.84,226.56 209.84,226.34 209.4,226.22" stroke="#2e8b2e" stroke-width="1" fill="none" />
<path d="M209.4,233.23C209.46,232.38 209.31,230.01 209.75,228.16C210.2,226.3 210.64,223.66 212.06,222.12C213.48,220.57 213.53,220.11 218.26,218.9C222.99,217.69 231.85,216.94 240.41,214.87C248.97,212.81 259.9,209.47 269.65,206.5C279.39,203.54 289.73,199.58 298.89,197.08C308.04,194.59 318.01,192.86 324.58,191.53C331.15,190.2 335.4,189.64 338.31,189.11C341.22,188.59 341.41,188.51 342.03,188.39" stroke="#9a33ee" stroke-width="1" fill="none" />
<path d="M342.03,188.39C341.64,189.47 340.38,192.64 339.64,194.91C338.9,197.18 338.49,199.74 337.6,201.99C336.72,204.25 335.76,206.15 334.33,208.43C332.89,210.71 330.93,213.01 329.01,215.68C327.09,218.35 325.47,221.57 322.81,224.45C320.15,227.34 316.9,230.58 313.06,232.99C309.22,235.39 304.5,237.45 299.77,238.86C295.05,240.27 289.58,240.89 284.71,241.44C279.84,241.99 275.7,242.16 270.53,242.16C265.37,242.16 258.72,241.8 253.7,241.44C248.68,241.08 246.32,240.93 240.41,239.99C234.5,239.05 223.43,236.93 218.26,235.8C213.09,234.68 210.88,233.66 209.4,233.23" stroke="#9a33ee" stroke-width="1" fill="none" />
<path d="M209.4,245.87C209.49,245.19 209.71,243.18 209.93,241.84C210.15,240.5 209.84,239.96 210.73,237.81C211.62,235.67 213.74,231.51 215.25,228.96C216.75,226.41 217.88,224.33 219.77,222.52C221.66,220.71 222.56,219.84 226.59,218.09C230.62,216.35 236.78,214.82 243.95,212.06C251.13,209.29 259.24,206.1 269.65,201.51C280.06,196.92 297.26,188.47 306.42,184.52C315.57,180.58 318.75,179.98 324.58,177.84C330.41,175.71 338.61,172.74 341.41,171.72" stroke="#ff66ff" stroke-width="1" fill="none" />
<path d="M341.41,171.72C340.91,173.4 339.52,177.92 338.4,181.79C337.28,185.65 335.89,190.79 334.68,194.91C333.47,199.03 332.52,203.51 331.14,206.5C329.75,209.49 328.18,210.59 326.35,212.86C324.52,215.13 322.36,217.42 320.15,220.11C317.94,222.79 315.87,225.87 313.06,228.96C310.26,232.05 307.3,235.8 303.32,238.62C299.33,241.44 292.98,244.05 289.14,245.87C285.3,247.68 284.71,247.88 280.28,249.49C275.85,251.1 267.73,254.25 262.56,255.53C257.39,256.8 253.7,257.07 249.27,257.13C244.84,257.2 241.15,257 235.98,255.93C230.81,254.85 222.69,252.37 218.26,250.7C213.83,249.02 210.88,246.67 209.4,245.87" stroke="#ff66ff" stroke-width="1" fill="none" />
<line x1="204.5" y1="155" x2="346.5" y2="155" stroke="#555"/>
<line x1="346.5" y1="155" x2="346.5" y2="267.5" stroke="#505050"/>
<line x1="204.5" y1="267.5" x2="347" y2="267.5" stroke="#3a3a3a"/>
<line x1="204.5" y1="154.5" x2="204.5" y2="267.5" stroke="#3a3a3a"/>
<line x1="209.4" y1="267.5" x2="209.4" y2="270.5" stroke="#3a3a3a"/>
<line x1="253.7" y1="267.5" x2="253.7" y2="270.5" stroke="#3a3a3a"/>
<line x1="298" y1="267.5" x2="298" y2="270.5" stroke="#3a3a3a"/>
<line x1="342.3" y1="267.5" x2="342.3" y2="270.5" stroke="#3a3a3a"/>
<line x1="231.55" y1="267.5" x2="231.55" y2="269.1" stroke="#3a3a3a"/>
<line x1="275.85" y1="267.5" x2="275.85" y2="269.1" stroke="#3a3a3a"/>
<line x1="320.15" y1="267.5" x2="320.15" y2="269.1" stroke="#3a3a3a"/>
<line x1="204.5" y1="171" x2="201.5" y2="171" stroke="#3a3a3a"/>
<line x1="204.5" y1="195.15" x2="201.5" y2="195.15" stroke="#3a3a3a"/>
<line x1="204.5" y1="219.3" x2="201.5" y2="219.3" stroke="#3a3a3a"/>
<line x1="204.5" y1="243.45" x2="201.5" y2="243.45" stroke="#3a3a3a"/>
<line x1="204.5" y1="267.6" x2="201.5" y2="267.6" stroke="#3a3a3a"/>
<line x1="204.5" y1="158.93" x2="202.9" y2="158.93" stroke="#3a3a3a"/>
<line x1="204.5" y1="183.08" x2="202.9" y2="183.08" stroke="#3a3a3a"/>
<line x1="204.5" y1="207.23" x2="202.9" y2="207.23" stroke="#3a3a3a"/>
<line x1="204.5" y1="231.38" x2="202.9" y2="231.38" stroke="#3a3a3a"/>
<line x1="204.5" y1="255.53" x2="202.9" y2="255.53" stroke="#3a3a3a"/>
<text x="0" y="0" font-size="7" text-anchor="middle" transform="translate(209.4 279.35) scale(1 1.13)" stroke="#222" stroke-width="0.22">0.0</text>
<text x="0" y="0" font-size="7" text-anchor="middle" transform="translate(253.7 279.35) scale(1 1.13)" stroke="#222" stroke-width="0.22">0.5</text>
<text x="0" y="0" font-size="7" text-anchor="middle" transform="translate(298 279.35) scale(1 1.13)" stroke="#222" stroke-width="0.22">1.0</text>
<text x="0" y="0" font-size="7" text-anchor="middle" transform="translate(342.3 279.35) scale(1 1.13)" stroke="#222" stroke-width="0.22">1.5</text>
<text x="0" y="0" font-size="7" text-anchor="end" transform="translate(199.4 173.85) scale(1 1.13)" stroke="#222" stroke-width="0.22">60</text>
<text x="0" y="0" font-size="7" text-anchor="end" transform="translate(199.4 198) scale(1 1.13)" stroke="#222" stroke-width="0.22">30</text>
<text x="0" y="0" font-size="7" text-anchor="end" transform="translate(199.4 222.15) scale(1 1.13)" stroke="#222" stroke-width="0.22">0</text>
<text x="0" y="0" font-size="7" text-anchor="end" transform="translate(199.4 246.3) scale(1 1.13)" stroke="#222" stroke-width="0.22">-30</text>
<text x="0" y="0" font-size="7" text-anchor="end" transform="translate(199.4 270.45) scale(1 1.13)" stroke="#222" stroke-width="0.22">-60</text>
<text x="181.5" y="158.7" font-size="8.6" stroke="#222" stroke-width="0.22">(e)</text>
<text x="186.3" y="211.3" font-size="8.6" text-anchor="middle" fill="#222" transform="rotate(-90 186.3 211.3)" stroke="#222" stroke-width="0.22">Current density (A g<tspan font-size="5.33" dy="-3.61">−1</tspan><tspan dy="3.61">)</tspan></text>
<text x="273.5" y="291.7" font-size="8.6" text-anchor="middle" fill="#222" stroke="#222" stroke-width="0.22">Voltage (V)</text>
<text x="344.5" y="164.7" font-size="8.6" text-anchor="end" stroke="#222" stroke-width="0.22">CuCo<tspan font-size="5.33" dy="2.41">2</tspan><tspan dy="-2.41">O</tspan><tspan font-size="5.33" dy="2.41">4</tspan><tspan dy="-2.41">@NiMn LDH</tspan></text>
<line x1="206.4" y1="174.1" x2="213.6" y2="174.1" stroke="#444444"/>
<text x="217.8" y="177.5" font-size="8.6" stroke="#222" stroke-width="0.22">5 mVs<tspan font-size="5.33" dy="-3.61">−1</tspan><tspan dy="3.61"></tspan></text>
<line x1="256.4" y1="174.1" x2="263.6" y2="174.1" stroke="#cc2222"/>
<text x="267.8" y="177.5" font-size="8.6" stroke="#222" stroke-width="0.22">10 mVs<tspan font-size="5.33" dy="-3.61">−1</tspan><tspan dy="3.61"></tspan></text>
<line x1="206.4" y1="186.5" x2="213.6" y2="186.5" stroke="#33cc33"/>
<text x="217.8" y="189.9" font-size="8.6" stroke="#222" stroke-width="0.22">20 mVs<tspan font-size="5.33" dy="-3.61">−1</tspan><tspan dy="3.61"></tspan></text>
<line x1="256.4" y1="186.5" x2="263.6" y2="186.5" stroke="#3a3aee"/>
<text x="267.8" y="189.9" font-size="8.6" stroke="#222" stroke-width="0.22">30 mVs<tspan font-size="5.33" dy="-3.61">−1</tspan><tspan dy="3.61"></tspan></text>
<line x1="206.4" y1="198.3" x2="213.6" y2="198.3" stroke="#33dddd"/>
<text x="217.8" y="201.7" font-size="8.6" stroke="#222" stroke-width="0.22">40 mVs<tspan font-size="5.33" dy="-3.61">−1</tspan><tspan dy="3.61"></tspan></text>
<line x1="291.3" y1="248.6" x2="298.5" y2="248.6" stroke="#2e8b2e"/>
<text x="302.7" y="252" font-size="8.6" stroke="#222" stroke-width="0.22">50 mVs<tspan font-size="5.33" dy="-3.61">−1</tspan><tspan dy="3.61"></tspan></text>
<line x1="238.6" y1="260.3" x2="245.8" y2="260.3" stroke="#9a33ee"/>
<text x="250" y="263.7" font-size="8.6" stroke="#222" stroke-width="0.22">100 mVs<tspan font-size="5.33" dy="-3.61">−1</tspan><tspan dy="3.61"></tspan></text>
<line x1="294.3" y1="260.3" x2="301.5" y2="260.3" stroke="#ff66ff"/>
<text x="305.7" y="263.7" font-size="8.6" stroke="#222" stroke-width="0.22">200 mVs<tspan font-size="5.33" dy="-3.61">−1</tspan><tspan dy="3.61"></tspan></text>
<path d="M380.6,267.6C380.63,263 380.69,248.93 380.78,240C380.87,231.07 380.99,222.33 381.12,214C381.26,205.67 381.43,197.73 381.58,190C381.72,182.27 381.93,171.33 382,167.6" stroke="#2e9a2e" stroke-width="1" fill="none" />
<path d="M382,167.6C382.05,168.43 382.17,164.2 382.3,172.6C382.43,181 382.58,202.17 382.8,218C383.02,233.83 383.47,259.33 383.6,267.6" stroke="#2e9a2e" stroke-width="1" fill="none" />
<path d="M380.6,267.6C380.68,263 380.84,248.93 381.07,240C381.3,231.07 381.62,222.33 381.97,214C382.31,205.67 382.73,197.73 383.13,190C383.54,182.27 384.19,171.33 384.4,167.6" stroke="#ff44ff" stroke-width="1" fill="none" />
<path d="M384.4,167.6C384.45,168.43 384.51,164.2 384.7,172.6C384.89,181 385.22,202.17 385.55,218C385.88,233.83 386.51,259.33 386.7,267.6" stroke="#ff44ff" stroke-width="1" fill="none" />
<path d="M380.6,267.6C380.7,263 380.91,248.93 381.21,240C381.51,231.07 381.93,222.33 382.39,214C382.84,205.67 383.38,197.73 383.92,190C384.45,182.27 385.32,171.33 385.6,167.6" stroke="#33eeee" stroke-width="1" fill="none" />
<path d="M385.6,167.6C385.65,168.43 385.64,164.2 385.9,172.6C386.16,181 386.68,202.17 387.15,218C387.62,233.83 388.44,259.33 388.7,267.6" stroke="#33eeee" stroke-width="1" fill="none" />
<path d="M380.6,267.6C380.74,263 381.04,248.93 381.45,240C381.87,231.07 382.46,222.33 383.09,214C383.71,205.67 384.46,197.73 385.22,190C385.97,182.27 387.2,171.33 387.6,167.6" stroke="#3a3aee" stroke-width="1" fill="none" />
<path d="M387.6,167.6C387.65,168.43 387.29,164.2 387.9,172.6C388.51,181 390.08,202.17 391.25,218C392.42,233.83 394.29,259.33 394.9,267.6" stroke="#3a3aee" stroke-width="1" fill="none" />
<path d="M380.6,267.6C380.82,263 381.27,248.93 381.9,240C382.53,231.07 383.43,222.33 384.38,214C385.33,205.67 386.47,197.73 387.62,190C388.77,182.27 390.69,171.33 391.3,167.6" stroke="#33dd33" stroke-width="1" fill="none" />
<path d="M391.3,167.6C391.35,168.43 390.65,164.2 391.6,172.6C392.55,181 395.15,202.17 397,218C398.85,233.83 401.75,259.33 402.7,267.6" stroke="#33dd33" stroke-width="1" fill="none" />
<path d="M380.6,267.6C380.67,265 380.78,256.93 381,252C381.22,247.07 381.47,242.5 381.9,238C382.33,233.5 382.7,228.83 383.6,225C384.5,221.17 385.93,218.33 387.3,215C388.67,211.67 390.43,208.78 391.8,205C393.17,201.22 394.43,196.07 395.5,192.3C396.57,188.53 397.15,185.35 398.2,182.4C399.25,179.45 400.5,176.98 401.8,174.6C403.1,172.22 405.3,169.18 406,168.1" stroke="#ff3333" stroke-width="1" fill="none" />
<path d="M406,168.1C406.1,168.58 406.33,169.92 406.6,171C406.87,172.08 407.03,172.27 407.6,174.6C408.17,176.93 408.85,180.85 410,185C411.15,189.15 412.53,193 414.5,199.5C416.47,206 419.72,216.75 421.8,224C423.88,231.25 425.48,235.73 427,243C428.52,250.27 430.25,263.5 430.9,267.6" stroke="#ff3333" stroke-width="1" fill="none" />
<path d="M380.6,267.6C380.72,265.5 380.9,259.1 381.3,255C381.7,250.9 382.35,246.58 383,243C383.65,239.42 384.33,236.5 385.2,233.5C386.07,230.5 387.07,227.58 388.2,225C389.33,222.42 390.63,220.12 392,218C393.37,215.88 394.82,214.3 396.4,212.3C397.98,210.3 399.68,208.13 401.5,206C403.32,203.87 405.3,201.67 407.3,199.5C409.3,197.33 411.38,195.12 413.5,193C415.62,190.88 417.83,188.72 420,186.8C422.17,184.88 424.38,183.17 426.5,181.5C428.62,179.83 430.62,178.17 432.7,176.8C434.78,175.43 436.87,174.35 439,173.3C441.13,172.25 443.58,171.22 445.5,170.5C447.42,169.78 448.83,169.4 450.5,169C452.17,168.6 454.42,168.25 455.5,168.1C456.58,167.95 456.75,168.1 457,168.1" stroke="#262626" stroke-width="1" fill="none" />
<path d="M457,168.1C457.17,168.8 457.5,170.32 458,172.3C458.5,174.28 459,177.47 460,180C461,182.53 462.33,184.83 464,187.5C465.67,190.17 467.83,193 470,196C472.17,199 474.6,202.25 477,205.5C479.4,208.75 482.07,212.08 484.4,215.5C486.73,218.92 489.07,223 491,226C492.93,229 494.5,231.62 496,233.5C497.5,235.38 498.92,236.4 500,237.3C501.08,238.2 501.5,238.2 502.5,238.9C503.5,239.6 504.67,240.15 506,241.5C507.33,242.85 509.08,244.92 510.5,247C511.92,249.08 513.17,251.5 514.5,254C515.83,256.5 517.32,259.78 518.5,262C519.68,264.22 521.08,266.42 521.6,267.3" stroke="#262626" stroke-width="1" fill="none" />
<line x1="380.5" y1="154.5" x2="522.5" y2="154.5" stroke="#555"/>
<line x1="522.5" y1="154.5" x2="522.5" y2="267.5" stroke="#505050"/>
<line x1="380.5" y1="267.5" x2="523" y2="267.5" stroke="#3a3a3a"/>
<line x1="380.5" y1="154" x2="380.5" y2="267.5" stroke="#3a3a3a"/>
<line x1="380.4" y1="267.5" x2="380.4" y2="270.5" stroke="#3a3a3a"/>
<line x1="409.1" y1="267.5" x2="409.1" y2="270.5" stroke="#3a3a3a"/>
<line x1="437.8" y1="267.5" x2="437.8" y2="270.5" stroke="#3a3a3a"/>
<line x1="466.5" y1="267.5" x2="466.5" y2="270.5" stroke="#3a3a3a"/>
<line x1="495.2" y1="267.5" x2="495.2" y2="270.5" stroke="#3a3a3a"/>
<line x1="394.75" y1="267.5" x2="394.75" y2="269.1" stroke="#3a3a3a"/>
<line x1="423.45" y1="267.5" x2="423.45" y2="269.1" stroke="#3a3a3a"/>
<line x1="452.15" y1="267.5" x2="452.15" y2="269.1" stroke="#3a3a3a"/>
<line x1="480.85" y1="267.5" x2="480.85" y2="269.1" stroke="#3a3a3a"/>
<line x1="509.55" y1="267.5" x2="509.55" y2="269.1" stroke="#3a3a3a"/>
<line x1="380.5" y1="267.8" x2="377.5" y2="267.8" stroke="#3a3a3a"/>
<line x1="380.5" y1="241.08" x2="377.5" y2="241.08" stroke="#3a3a3a"/>
<line x1="380.5" y1="214.36" x2="377.5" y2="214.36" stroke="#3a3a3a"/>
<line x1="380.5" y1="187.64" x2="377.5" y2="187.64" stroke="#3a3a3a"/>
<line x1="380.5" y1="160.92" x2="377.5" y2="160.92" stroke="#3a3a3a"/>
<line x1="380.5" y1="254.44" x2="378.9" y2="254.44" stroke="#3a3a3a"/>
<line x1="380.5" y1="227.72" x2="378.9" y2="227.72" stroke="#3a3a3a"/>
<line x1="380.5" y1="201" x2="378.9" y2="201" stroke="#3a3a3a"/>
<line x1="380.5" y1="174.28" x2="378.9" y2="174.28" stroke="#3a3a3a"/>
<text x="0" y="0" font-size="7" text-anchor="middle" transform="translate(380.4 279.45) scale(1 1.13)" stroke="#222" stroke-width="0.22">0</text>
<text x="0" y="0" font-size="7" text-anchor="middle" transform="translate(409.1 279.45) scale(1 1.13)" stroke="#222" stroke-width="0.22">200</text>
<text x="0" y="0" font-size="7" text-anchor="middle" transform="translate(437.8 279.45) scale(1 1.13)" stroke="#222" stroke-width="0.22">400</text>
<text x="0" y="0" font-size="7" text-anchor="middle" transform="translate(466.5 279.45) scale(1 1.13)" stroke="#222" stroke-width="0.22">600</text>
<text x="0" y="0" font-size="7" text-anchor="middle" transform="translate(495.2 279.45) scale(1 1.13)" stroke="#222" stroke-width="0.22">800</text>
<text x="0" y="0" font-size="7" text-anchor="end" transform="translate(375.5 270.65) scale(1 1.13)" stroke="#222" stroke-width="0.22">0.0</text>
<text x="0" y="0" font-size="7" text-anchor="end" transform="translate(375.5 243.93) scale(1 1.13)" stroke="#222" stroke-width="0.22">0.4</text>
<text x="0" y="0" font-size="7" text-anchor="end" transform="translate(375.5 217.21) scale(1 1.13)" stroke="#222" stroke-width="0.22">0.8</text>
<text x="0" y="0" font-size="7" text-anchor="end" transform="translate(375.5 190.49) scale(1 1.13)" stroke="#222" stroke-width="0.22">1.2</text>
<text x="0" y="0" font-size="7" text-anchor="end" transform="translate(375.5 163.77) scale(1 1.13)" stroke="#222" stroke-width="0.22">1.6</text>
<text x="354.5" y="158.7" font-size="8.6" stroke="#222" stroke-width="0.22">(f)</text>
<text x="360.9" y="211" font-size="8.6" text-anchor="middle" fill="#222" transform="rotate(-90 360.9 211)" stroke="#222" stroke-width="0.22">Voltage (V)</text>
<text x="451.4" y="292.1" font-size="8.6" text-anchor="middle" fill="#222" stroke="#222" stroke-width="0.22">Time (s)</text>
<text x="520" y="165.5" font-size="8.6" text-anchor="end" stroke="#222" stroke-width="0.22">CuCo<tspan font-size="5.33" dy="2.41">2</tspan><tspan dy="-2.41">O</tspan><tspan font-size="5.33" dy="2.41">4</tspan><tspan dy="-2.41">@NiMn LDH</tspan></text>
<line x1="427.8" y1="200.9" x2="435.2" y2="200.9" stroke="#262626"/>
<text x="439.1" y="204.3" font-size="8.6" stroke="#222" stroke-width="0.22">1 A g<tspan font-size="5.33" dy="-3.61">−1</tspan><tspan dy="3.61"></tspan></text>
<line x1="427.8" y1="212.8" x2="435.2" y2="212.8" stroke="#ff3333"/>
<text x="439.1" y="216.2" font-size="8.6" stroke="#222" stroke-width="0.22">2 A g<tspan font-size="5.33" dy="-3.61">−1</tspan><tspan dy="3.61"></tspan></text>
<line x1="427.8" y1="224.8" x2="435.2" y2="224.8" stroke="#33dd33"/>
<text x="439.1" y="228.2" font-size="8.6" stroke="#222" stroke-width="0.22">4 A g<tspan font-size="5.33" dy="-3.61">−1</tspan><tspan dy="3.61"></tspan></text>
<line x1="427.8" y1="236.8" x2="435.2" y2="236.8" stroke="#3a3aee"/>
<text x="439.1" y="240.2" font-size="8.6" stroke="#222" stroke-width="0.22">5 A g<tspan font-size="5.33" dy="-3.61">−1</tspan><tspan dy="3.61"></tspan></text>
<line x1="427.8" y1="248.8" x2="435.2" y2="248.8" stroke="#33eeee"/>
<text x="439.1" y="252.2" font-size="8.6" stroke="#222" stroke-width="0.22">8 A g<tspan font-size="5.33" dy="-3.61">−1</tspan><tspan dy="3.61"></tspan></text>
<line x1="427.8" y1="260.8" x2="435.2" y2="260.8" stroke="#ff44ff"/>
<text x="439.1" y="264.2" font-size="8.6" stroke="#222" stroke-width="0.22">10 A g<tspan font-size="5.33" dy="-3.61">−1</tspan><tspan dy="3.61"></tspan></text>
<line x1="472.9" y1="260.8" x2="480.3" y2="260.8" stroke="#2e9a2e"/>
<text x="484.2" y="264.2" font-size="8.6" stroke="#222" stroke-width="0.22">20 A g<tspan font-size="5.33" dy="-3.61">−1</tspan><tspan dy="3.61"></tspan></text>
<defs><radialGradient id="rdot" cx="0.38" cy="0.35" r="0.7"><stop offset="0" stop-color="#ffb0b0"/><stop offset="0.35" stop-color="#ff2020"/><stop offset="1" stop-color="#c00000"/></radialGradient></defs>
<ellipse cx="118" cy="370.3" rx="43" ry="29.6" fill="#b0ebf9" stroke="#4466ee" stroke-width="1.2"/>
<ellipse cx="68.6" cy="335.3" rx="30.2" ry="10.9" fill="#fff" stroke="#33dd33" stroke-width="1.4"/>
<ellipse cx="55.3" cy="311" rx="17.7" ry="7.5" fill="#fff" stroke="#ff33ff" stroke-width="1.1"/>
<ellipse cx="154.5" cy="404.6" rx="18.2" ry="8.1" fill="#fff" stroke="#555" stroke-width="1"/>
<text x="117.2" y="374.76" font-size="11.0" text-anchor="middle" fill="#2233ee" stroke="#2233ee" stroke-width="0.22">Supercapacitors</text>
<text x="69.7" y="339.33" font-size="9.8" text-anchor="middle" fill="#33cc33" stroke="#33cc33" stroke-width="0.22">Batteries</text>
<text x="55.6" y="313.98" font-size="6.9" text-anchor="middle" fill="#ff33ff" stroke="#ff33ff" stroke-width="0.22">Fuel cells</text>
<text x="154.4" y="406.92" font-size="7.0" text-anchor="middle" fill="#333" stroke="#333" stroke-width="0.22">Capacitors</text>
<path d="M97.6,325.3 L108.6,327.8 L118.2,329.5 L123.5,330.5 L130,331.2 L133.8,331.5 L144.3,333.5" stroke="#ff3030" stroke-width="0.8" fill="none" stroke-dasharray="2,1.5"/>
<circle cx="97.6" cy="325.3" r="2.65" fill="url(#rdot)"/>
<circle cx="108.6" cy="327.8" r="2.65" fill="url(#rdot)"/>
<circle cx="118.2" cy="329.5" r="2.65" fill="url(#rdot)"/>
<circle cx="123.5" cy="330.5" r="2.65" fill="url(#rdot)"/>
<circle cx="130" cy="331.2" r="2.65" fill="url(#rdot)"/>
<circle cx="133.8" cy="331.5" r="2.65" fill="url(#rdot)"/>
<circle cx="144.3" cy="333.5" r="2.65" fill="url(#rdot)"/>
<line x1="77.8" y1="307.9" x2="86.5" y2="307.9" stroke="#ff3030" stroke-width="0.8" stroke-dasharray="1.6,1.2"/>
<circle cx="82.0" cy="307.9" r="2.6" fill="url(#rdot)"/>
<text x="87.6" y="310.8" font-size="8.6" fill="#ff2020" stroke="#ff2020" stroke-width="0.22">CuCo<tspan font-size="5.33" dy="2.41">2</tspan><tspan dy="-2.41">O</tspan><tspan font-size="5.33" dy="2.41">4</tspan><tspan dy="-2.41">@NiMn LDH</tspan></text>
<text x="83.8" y="321.3" font-size="8.6" fill="#ff2020" stroke="#ff2020" stroke-width="0.22">1 A g<tspan font-size="5.33" dy="-3.61">−1</tspan><tspan dy="3.61"></tspan></text>
<text x="141.5" y="346.1" font-size="8.6" fill="#ff2020" stroke="#ff2020" stroke-width="0.22">20 A g<tspan font-size="5.33" dy="-3.61">−1</tspan><tspan dy="3.61"></tspan></text>
<line x1="31.5" y1="301.5" x2="173.5" y2="301.5" stroke="#858585"/>
<line x1="173.5" y1="301.5" x2="173.5" y2="415.5" stroke="#505050"/>
<line x1="31.5" y1="415.5" x2="174" y2="415.5" stroke="#3a3a3a"/>
<line x1="31.5" y1="301" x2="31.5" y2="415.5" stroke="#3a3a3a"/>
<line x1="31.2" y1="415.5" x2="31.2" y2="418.5" stroke="#3a3a3a"/>
<line x1="66.75" y1="415.5" x2="66.75" y2="418.5" stroke="#3a3a3a"/>
<line x1="102.3" y1="415.5" x2="102.3" y2="418.5" stroke="#3a3a3a"/>
<line x1="137.85" y1="415.5" x2="137.85" y2="418.5" stroke="#3a3a3a"/>
<line x1="173.4" y1="415.5" x2="173.4" y2="418.5" stroke="#3a3a3a"/>
<line x1="41.9" y1="415.5" x2="41.9" y2="417.1" stroke="#3a3a3a"/>
<line x1="48.16" y1="415.5" x2="48.16" y2="417.1" stroke="#3a3a3a"/>
<line x1="52.6" y1="415.5" x2="52.6" y2="417.1" stroke="#3a3a3a"/>
<line x1="56.05" y1="415.5" x2="56.05" y2="417.1" stroke="#3a3a3a"/>
<line x1="58.86" y1="415.5" x2="58.86" y2="417.1" stroke="#3a3a3a"/>
<line x1="61.24" y1="415.5" x2="61.24" y2="417.1" stroke="#3a3a3a"/>
<line x1="63.3" y1="415.5" x2="63.3" y2="417.1" stroke="#3a3a3a"/>
<line x1="65.12" y1="415.5" x2="65.12" y2="417.1" stroke="#3a3a3a"/>
<line x1="77.45" y1="415.5" x2="77.45" y2="417.1" stroke="#3a3a3a"/>
<line x1="83.71" y1="415.5" x2="83.71" y2="417.1" stroke="#3a3a3a"/>
<line x1="88.15" y1="415.5" x2="88.15" y2="417.1" stroke="#3a3a3a"/>
<line x1="91.6" y1="415.5" x2="91.6" y2="417.1" stroke="#3a3a3a"/>
<line x1="94.41" y1="415.5" x2="94.41" y2="417.1" stroke="#3a3a3a"/>
<line x1="96.79" y1="415.5" x2="96.79" y2="417.1" stroke="#3a3a3a"/>
<line x1="98.85" y1="415.5" x2="98.85" y2="417.1" stroke="#3a3a3a"/>
<line x1="100.67" y1="415.5" x2="100.67" y2="417.1" stroke="#3a3a3a"/>
<line x1="113" y1="415.5" x2="113" y2="417.1" stroke="#3a3a3a"/>
<line x1="119.26" y1="415.5" x2="119.26" y2="417.1" stroke="#3a3a3a"/>
<line x1="123.7" y1="415.5" x2="123.7" y2="417.1" stroke="#3a3a3a"/>
<line x1="127.15" y1="415.5" x2="127.15" y2="417.1" stroke="#3a3a3a"/>
<line x1="129.96" y1="415.5" x2="129.96" y2="417.1" stroke="#3a3a3a"/>
<line x1="132.34" y1="415.5" x2="132.34" y2="417.1" stroke="#3a3a3a"/>
<line x1="134.4" y1="415.5" x2="134.4" y2="417.1" stroke="#3a3a3a"/>
<line x1="136.22" y1="415.5" x2="136.22" y2="417.1" stroke="#3a3a3a"/>
<line x1="148.55" y1="415.5" x2="148.55" y2="417.1" stroke="#3a3a3a"/>
<line x1="154.81" y1="415.5" x2="154.81" y2="417.1" stroke="#3a3a3a"/>
<line x1="159.25" y1="415.5" x2="159.25" y2="417.1" stroke="#3a3a3a"/>
<line x1="162.7" y1="415.5" x2="162.7" y2="417.1" stroke="#3a3a3a"/>
<line x1="165.51" y1="415.5" x2="165.51" y2="417.1" stroke="#3a3a3a"/>
<line x1="167.89" y1="415.5" x2="167.89" y2="417.1" stroke="#3a3a3a"/>
<line x1="169.95" y1="415.5" x2="169.95" y2="417.1" stroke="#3a3a3a"/>
<line x1="171.77" y1="415.5" x2="171.77" y2="417.1" stroke="#3a3a3a"/>
<line x1="31.5" y1="415" x2="28.5" y2="415" stroke="#3a3a3a"/>
<line x1="31.5" y1="392.36" x2="28.5" y2="392.36" stroke="#3a3a3a"/>
<line x1="31.5" y1="369.72" x2="28.5" y2="369.72" stroke="#3a3a3a"/>
<line x1="31.5" y1="347.08" x2="28.5" y2="347.08" stroke="#3a3a3a"/>
<line x1="31.5" y1="324.44" x2="28.5" y2="324.44" stroke="#3a3a3a"/>
<line x1="31.5" y1="301.8" x2="28.5" y2="301.8" stroke="#3a3a3a"/>
<line x1="31.5" y1="408.18" x2="29.9" y2="408.18" stroke="#3a3a3a"/>
<line x1="31.5" y1="404.2" x2="29.9" y2="404.2" stroke="#3a3a3a"/>
<line x1="31.5" y1="401.37" x2="29.9" y2="401.37" stroke="#3a3a3a"/>
<line x1="31.5" y1="399.18" x2="29.9" y2="399.18" stroke="#3a3a3a"/>
<line x1="31.5" y1="397.38" x2="29.9" y2="397.38" stroke="#3a3a3a"/>
<line x1="31.5" y1="395.87" x2="29.9" y2="395.87" stroke="#3a3a3a"/>
<line x1="31.5" y1="394.55" x2="29.9" y2="394.55" stroke="#3a3a3a"/>
<line x1="31.5" y1="393.4" x2="29.9" y2="393.4" stroke="#3a3a3a"/>
<line x1="31.5" y1="385.54" x2="29.9" y2="385.54" stroke="#3a3a3a"/>
<line x1="31.5" y1="381.56" x2="29.9" y2="381.56" stroke="#3a3a3a"/>
<line x1="31.5" y1="378.73" x2="29.9" y2="378.73" stroke="#3a3a3a"/>
<line x1="31.5" y1="376.54" x2="29.9" y2="376.54" stroke="#3a3a3a"/>
<line x1="31.5" y1="374.74" x2="29.9" y2="374.74" stroke="#3a3a3a"/>
<line x1="31.5" y1="373.23" x2="29.9" y2="373.23" stroke="#3a3a3a"/>
<line x1="31.5" y1="371.91" x2="29.9" y2="371.91" stroke="#3a3a3a"/>
<line x1="31.5" y1="370.76" x2="29.9" y2="370.76" stroke="#3a3a3a"/>
<line x1="31.5" y1="362.9" x2="29.9" y2="362.9" stroke="#3a3a3a"/>
<line x1="31.5" y1="358.92" x2="29.9" y2="358.92" stroke="#3a3a3a"/>
<line x1="31.5" y1="356.09" x2="29.9" y2="356.09" stroke="#3a3a3a"/>
<line x1="31.5" y1="353.9" x2="29.9" y2="353.9" stroke="#3a3a3a"/>
<line x1="31.5" y1="352.1" x2="29.9" y2="352.1" stroke="#3a3a3a"/>
<line x1="31.5" y1="350.59" x2="29.9" y2="350.59" stroke="#3a3a3a"/>
<line x1="31.5" y1="349.27" x2="29.9" y2="349.27" stroke="#3a3a3a"/>
<line x1="31.5" y1="348.12" x2="29.9" y2="348.12" stroke="#3a3a3a"/>
<line x1="31.5" y1="340.26" x2="29.9" y2="340.26" stroke="#3a3a3a"/>
<line x1="31.5" y1="336.28" x2="29.9" y2="336.28" stroke="#3a3a3a"/>
<line x1="31.5" y1="333.45" x2="29.9" y2="333.45" stroke="#3a3a3a"/>
<line x1="31.5" y1="331.26" x2="29.9" y2="331.26" stroke="#3a3a3a"/>
<line x1="31.5" y1="329.46" x2="29.9" y2="329.46" stroke="#3a3a3a"/>
<line x1="31.5" y1="327.95" x2="29.9" y2="327.95" stroke="#3a3a3a"/>
<line x1="31.5" y1="326.63" x2="29.9" y2="326.63" stroke="#3a3a3a"/>
<line x1="31.5" y1="325.48" x2="29.9" y2="325.48" stroke="#3a3a3a"/>
<line x1="31.5" y1="317.62" x2="29.9" y2="317.62" stroke="#3a3a3a"/>
<line x1="31.5" y1="313.64" x2="29.9" y2="313.64" stroke="#3a3a3a"/>
<line x1="31.5" y1="310.81" x2="29.9" y2="310.81" stroke="#3a3a3a"/>
<line x1="31.5" y1="308.62" x2="29.9" y2="308.62" stroke="#3a3a3a"/>
<line x1="31.5" y1="306.82" x2="29.9" y2="306.82" stroke="#3a3a3a"/>
<line x1="31.5" y1="305.31" x2="29.9" y2="305.31" stroke="#3a3a3a"/>
<line x1="31.5" y1="303.99" x2="29.9" y2="303.99" stroke="#3a3a3a"/>
<line x1="31.5" y1="302.84" x2="29.9" y2="302.84" stroke="#3a3a3a"/>
<text x="0" y="0" font-size="7" text-anchor="middle" transform="translate(31.2 427.05) scale(1 1.13)" stroke="#222" stroke-width="0.22">10</text>
<text x="0" y="0" font-size="7" text-anchor="middle" transform="translate(66.75 427.05) scale(1 1.13)" stroke="#222" stroke-width="0.22">100</text>
<text x="0" y="0" font-size="7" text-anchor="middle" transform="translate(102.3 427.05) scale(1 1.13)" stroke="#222" stroke-width="0.22">1000</text>
<text x="0" y="0" font-size="7" text-anchor="middle" transform="translate(137.85 427.05) scale(1 1.13)" stroke="#222" stroke-width="0.22">10000</text>
<text x="0" y="0" font-size="7" text-anchor="middle" transform="translate(173.4 427.05) scale(1 1.13)" stroke="#222" stroke-width="0.22">100000</text>
<text x="0" y="0" font-size="7" text-anchor="end" transform="translate(28.5 417.85) scale(1 1.13)" stroke="#222" stroke-width="0.22">0.01</text>
<text x="0" y="0" font-size="7" text-anchor="end" transform="translate(28.5 395.21) scale(1 1.13)" stroke="#222" stroke-width="0.22">0.1</text>
<text x="0" y="0" font-size="7" text-anchor="end" transform="translate(28.5 372.57) scale(1 1.13)" stroke="#222" stroke-width="0.22">1</text>
<text x="0" y="0" font-size="7" text-anchor="end" transform="translate(28.5 349.93) scale(1 1.13)" stroke="#222" stroke-width="0.22">10</text>
<text x="0" y="0" font-size="7" text-anchor="end" transform="translate(28.5 327.29) scale(1 1.13)" stroke="#222" stroke-width="0.22">100</text>
<text x="0" y="0" font-size="7" text-anchor="end" transform="translate(28.5 304.65) scale(1 1.13)" stroke="#222" stroke-width="0.22">1000</text>
<text x="3.4" y="304.1" font-size="8.6" stroke="#222" stroke-width="0.22">(g)</text>
<text x="13.1" y="358" font-size="8.6" text-anchor="middle" fill="#222" transform="rotate(-90 13.1 358)" stroke="#222" stroke-width="0.22">Energy density (Wh kg<tspan font-size="5.33" dy="-3.61">−1</tspan><tspan dy="3.61">)</tspan></text>
<text x="102.7" y="439.1" font-size="8.6" text-anchor="middle" fill="#222" stroke="#222" stroke-width="0.22">Power density (W kg<tspan font-size="5.33" dy="-3.61">−1</tspan><tspan dy="3.61">)</tspan></text>
<path d="M204.6,312.03 L205.6,312.51 L206.6,312.64 L207.6,313.05 L208.6,313.3 L209.6,313.14 L210.6,313.32 L211.6,314.12 L212.6,313.92 L213.6,314.1 L214.6,314.83 L215.6,314.65 L216.6,315.1 L217.6,315.02 L218.6,315.31 L219.6,315.14 L220.6,315.65 L221.6,315.97 L222.6,315.89 L223.6,316.2 L224.6,316.3 L225.6,316.03 L226.6,316.66 L227.6,316.68 L228.6,316.62 L229.6,316.57 L230.6,317.29 L231.6,317.15 L232.6,317.45 L233.6,317.69 L234.6,317.7 L235.6,317.97 L236.6,317.73 L237.6,318.14 L238.6,318.01 L239.6,318.47 L240.6,318.55 L241.6,318.12 L242.6,318.26 L243.6,318.43 L244.6,319.07 L245.6,318.81 L246.6,319.05 L247.6,318.94 L248.6,319.19 L249.6,319.21 L250.6,319.3 L251.6,319.57 L252.6,319.67 L253.6,320 L254.6,319.95 L255.6,320.23 L256.6,320.28 L257.6,320.48 L258.6,320.35 L259.6,320.1 L260.6,320.69 L261.6,320.86 L262.6,320.92 L263.6,320.79 L264.6,320.99 L265.6,320.74 L266.6,321.27 L267.6,321.19 L268.6,321.08 L269.6,321.02 L270.6,321.68 L271.6,321.87 L272.6,321.33 L273.6,321.93 L274.6,321.75 L275.6,321.67 L276.6,321.86 L277.6,322.29 L278.6,322.46 L279.6,321.97 L280.6,322.47 L281.6,322.16 L282.6,322.73 L283.6,322.55 L284.6,323.03 L285.6,323.2 L286.6,322.96 L287.6,323.4 L288.6,323.01 L289.6,322.94 L290.6,323.4 L291.6,323.09 L292.6,323.3 L293.6,323.54 L294.6,323.77 L295.6,323.55 L296.6,323.56 L297.6,324.23 L298.6,323.93 L299.6,324.48 L300.6,324.53 L301.6,324.25 L302.6,324.4 L303.6,324.54 L304.6,324.71 L305.6,324.77 L306.6,324.84 L307.6,324.97 L308.6,325.28 L309.6,325.07 L310.6,325.11 L311.6,325.4 L312.6,325.15 L313.6,325.29 L314.6,325.85 L315.6,325.62 L316.6,325.73 L317.6,325.44 L318.6,325.82 L319.6,326.02 L320.6,325.72 L321.6,326.22 L322.6,326.32 L323.6,326.01 L324.6,326.5 L325.6,326.47 L326.6,326.71 L327.6,326.57 L328.6,326.91 L329.6,327.02 L330.6,326.61 L331.6,326.72 L332.6,327.24 L333.6,327.53 L334.6,327.12 L335.6,327.35 L336.6,327.53 L337.6,327.43 L338.6,327.55 L339.6,327.6 L340.6,327.72 L341.6,327.97 L342.6,327.85 L343.6,327.99 L344.6,328.35" stroke="#1a1a1a" stroke-width="2.4" fill="none" />
<line x1="346" y1="328.6" x2="346" y2="331.2" stroke="#1a1a1a" stroke-width="1.2"/>
<path d="M336.2,336.4 Q341,333.5 343.6,329.6" stroke="#333" stroke-width="0.7" fill="none" />
<path d="M343.9,328.6 L342.3,331.6 L344.6,331.0 Z" stroke="none" stroke-width="0" fill="#333" />
<line x1="204.5" y1="301.5" x2="346.5" y2="301.5" stroke="#858585"/>
<line x1="346.5" y1="301.5" x2="346.5" y2="415.5" stroke="#505050"/>
<line x1="204.5" y1="415.5" x2="347" y2="415.5" stroke="#3a3a3a"/>
<line x1="204.5" y1="301" x2="204.5" y2="415.5" stroke="#3a3a3a"/>
<line x1="204.4" y1="415.5" x2="204.4" y2="418.5" stroke="#3a3a3a"/>
<line x1="232.82" y1="415.5" x2="232.82" y2="418.5" stroke="#3a3a3a"/>
<line x1="261.24" y1="415.5" x2="261.24" y2="418.5" stroke="#3a3a3a"/>
<line x1="289.66" y1="415.5" x2="289.66" y2="418.5" stroke="#3a3a3a"/>
<line x1="318.08" y1="415.5" x2="318.08" y2="418.5" stroke="#3a3a3a"/>
<line x1="346.5" y1="415.5" x2="346.5" y2="418.5" stroke="#3a3a3a"/>
<line x1="218.61" y1="415.5" x2="218.61" y2="417.1" stroke="#3a3a3a"/>
<line x1="247.03" y1="415.5" x2="247.03" y2="417.1" stroke="#3a3a3a"/>
<line x1="275.45" y1="415.5" x2="275.45" y2="417.1" stroke="#3a3a3a"/>
<line x1="303.87" y1="415.5" x2="303.87" y2="417.1" stroke="#3a3a3a"/>
<line x1="332.29" y1="415.5" x2="332.29" y2="417.1" stroke="#3a3a3a"/>
<line x1="204.5" y1="415" x2="201.5" y2="415" stroke="#3a3a3a"/>
<line x1="204.5" y1="398.83" x2="201.5" y2="398.83" stroke="#3a3a3a"/>
<line x1="204.5" y1="382.66" x2="201.5" y2="382.66" stroke="#3a3a3a"/>
<line x1="204.5" y1="366.49" x2="201.5" y2="366.49" stroke="#3a3a3a"/>
<line x1="204.5" y1="350.32" x2="201.5" y2="350.32" stroke="#3a3a3a"/>
<line x1="204.5" y1="334.15" x2="201.5" y2="334.15" stroke="#3a3a3a"/>
<line x1="204.5" y1="317.98" x2="201.5" y2="317.98" stroke="#3a3a3a"/>
<line x1="204.5" y1="301.81" x2="201.5" y2="301.81" stroke="#3a3a3a"/>
<line x1="204.5" y1="406.92" x2="202.9" y2="406.92" stroke="#3a3a3a"/>
<line x1="204.5" y1="390.75" x2="202.9" y2="390.75" stroke="#3a3a3a"/>
<line x1="204.5" y1="374.57" x2="202.9" y2="374.57" stroke="#3a3a3a"/>
<line x1="204.5" y1="358.4" x2="202.9" y2="358.4" stroke="#3a3a3a"/>
<line x1="204.5" y1="342.24" x2="202.9" y2="342.24" stroke="#3a3a3a"/>
<line x1="204.5" y1="326.06" x2="202.9" y2="326.06" stroke="#3a3a3a"/>
<line x1="204.5" y1="309.89" x2="202.9" y2="309.89" stroke="#3a3a3a"/>
<text x="0" y="0" font-size="7" text-anchor="middle" transform="translate(204.4 426.75) scale(1 1.13)" stroke="#222" stroke-width="0.22">0</text>
<text x="0" y="0" font-size="7" text-anchor="middle" transform="translate(232.82 426.75) scale(1 1.13)" stroke="#222" stroke-width="0.22">1000</text>
<text x="0" y="0" font-size="7" text-anchor="middle" transform="translate(261.24 426.75) scale(1 1.13)" stroke="#222" stroke-width="0.22">2000</text>
<text x="0" y="0" font-size="7" text-anchor="middle" transform="translate(289.66 426.75) scale(1 1.13)" stroke="#222" stroke-width="0.22">3000</text>
<text x="0" y="0" font-size="7" text-anchor="middle" transform="translate(318.08 426.75) scale(1 1.13)" stroke="#222" stroke-width="0.22">4000</text>
<text x="0" y="0" font-size="7" text-anchor="middle" transform="translate(346.5 426.75) scale(1 1.13)" stroke="#222" stroke-width="0.22">5000</text>
<text x="0" y="0" font-size="7" text-anchor="end" transform="translate(202.8 417.85) scale(1 1.13)" stroke="#222" stroke-width="0.22">0</text>
<text x="0" y="0" font-size="7" text-anchor="end" transform="translate(202.8 401.68) scale(1 1.13)" stroke="#222" stroke-width="0.22">50</text>
<text x="0" y="0" font-size="7" text-anchor="end" transform="translate(202.8 385.51) scale(1 1.13)" stroke="#222" stroke-width="0.22">100</text>
<text x="0" y="0" font-size="7" text-anchor="end" transform="translate(202.8 369.34) scale(1 1.13)" stroke="#222" stroke-width="0.22">150</text>
<text x="0" y="0" font-size="7" text-anchor="end" transform="translate(202.8 353.17) scale(1 1.13)" stroke="#222" stroke-width="0.22">200</text>
<text x="0" y="0" font-size="7" text-anchor="end" transform="translate(202.8 337) scale(1 1.13)" stroke="#222" stroke-width="0.22">250</text>
<text x="0" y="0" font-size="7" text-anchor="end" transform="translate(202.8 320.83) scale(1 1.13)" stroke="#222" stroke-width="0.22">300</text>
<text x="0" y="0" font-size="7" text-anchor="end" transform="translate(202.8 304.66) scale(1 1.13)" stroke="#222" stroke-width="0.22">350</text>
<text x="179.2" y="304.3" font-size="8.6" stroke="#222" stroke-width="0.22">(h)</text>
<text x="188.5" y="357.4" font-size="8.6" text-anchor="middle" fill="#222" transform="rotate(-90 188.5 357.4)" stroke="#222" stroke-width="0.22">Specific capacitance (F g<tspan font-size="5.33" dy="-3.61">−1</tspan><tspan dy="3.61">)</tspan></text>
<text x="275.4" y="439.4" font-size="8.6" text-anchor="middle" fill="#222" stroke="#222" stroke-width="0.22">Cycle number</text>
<text x="344.4" y="312.2" font-size="8.6" text-anchor="end" stroke="#222" stroke-width="0.22">CuCo<tspan font-size="5.33" dy="2.41">2</tspan><tspan dy="-2.41">O</tspan><tspan font-size="5.33" dy="2.41">4</tspan><tspan dy="-2.41">@NiMn LDH</tspan></text>
<text x="212.4" y="332.8" font-size="8.6" stroke="#222" stroke-width="0.22">5 A g<tspan font-size="5.33" dy="-3.61">−1</tspan><tspan dy="3.61"></tspan></text>
<text x="314.3" y="347.1" font-size="8.6" stroke="#222" stroke-width="0.22">85.28%</text>
<path d="M386.8,334.3 L393.3,337.7 L407,332.9 L413.9,334.5 L433.9,338.7 L447.9,335 L515.8,330.5" stroke="#ff3030" stroke-width="0.9" fill="none" />
<path d="M384.4,334.3 L388.4,332.3 L388.4,336.3 Z" stroke="none" stroke-width="0" fill="#ff3030" />
<path d="M390.9,337.7 L394.9,335.7 L394.9,339.7 Z" stroke="none" stroke-width="0" fill="#ff3030" />
<path d="M404.6,332.9 L408.6,330.9 L408.6,334.9 Z" stroke="none" stroke-width="0" fill="#ff3030" />
<path d="M411.5,334.5 L415.5,332.5 L415.5,336.5 Z" stroke="none" stroke-width="0" fill="#ff3030" />
<path d="M431.5,338.7 L435.5,336.7 L435.5,340.7 Z" stroke="none" stroke-width="0" fill="#ff3030" />
<path d="M445.5,335 L449.5,333 L449.5,337 Z" stroke="none" stroke-width="0" fill="#ff3030" />
<path d="M513.4,330.5 L517.4,328.5 L517.4,332.5 Z" stroke="none" stroke-width="0" fill="#ff3030" />
<path d="M387.4,318.6 L394,345.3 L407.4,354.3 L414.3,367.3 L434.3,369.8 L447.9,372.9 L515.5,380.6" stroke="#2a3af0" stroke-width="0.9" fill="none" />
<circle cx="387.4" cy="318.6" r="2.3" fill="#2a3af0"/>
<circle cx="394" cy="345.3" r="2.3" fill="#2a3af0"/>
<circle cx="407.4" cy="354.3" r="2.3" fill="#2a3af0"/>
<circle cx="414.3" cy="367.3" r="2.3" fill="#2a3af0"/>
<circle cx="434.3" cy="369.8" r="2.3" fill="#2a3af0"/>
<circle cx="447.9" cy="372.9" r="2.3" fill="#2a3af0"/>
<circle cx="515.5" cy="380.6" r="2.3" fill="#2a3af0"/>
<path d="M404.2,353 Q398,358.5 386.5,352.6" stroke="#2a3af0" stroke-width="0.9" fill="none" />
<path d="M384.1,351.2 L388.2,351.6 L386.6,354.2 Z" stroke="none" stroke-width="0" fill="#2a3af0" />
<path d="M509,335 Q510.5,340.5 517,338.6" stroke="#ff3030" stroke-width="0.9" fill="none" />
<path d="M519.3,337.6 L515.9,336.8 L516.6,340 Z" stroke="none" stroke-width="0" fill="#ff3030" />
<line x1="380.5" y1="415.5" x2="522.5" y2="415.5" stroke="#3a3a3a"/>
<line x1="380.5" y1="301.5" x2="522.5" y2="301.5" stroke="#858585"/>
<line x1="380.5" y1="301.5" x2="380.5" y2="415.5" stroke="#2a3af0"/>
<line x1="522.5" y1="301.5" x2="522.5" y2="415.5" stroke="#ff3030"/>
<line x1="380.3" y1="415.5" x2="380.3" y2="418.5" stroke="#3a3a3a"/>
<line x1="414.1" y1="415.5" x2="414.1" y2="418.5" stroke="#3a3a3a"/>
<line x1="447.9" y1="415.5" x2="447.9" y2="418.5" stroke="#3a3a3a"/>
<line x1="481.7" y1="415.5" x2="481.7" y2="418.5" stroke="#3a3a3a"/>
<line x1="515.5" y1="415.5" x2="515.5" y2="418.5" stroke="#3a3a3a"/>
<line x1="397.2" y1="415.5" x2="397.2" y2="417.1" stroke="#3a3a3a"/>
<line x1="431" y1="415.5" x2="431" y2="417.1" stroke="#3a3a3a"/>
<line x1="464.8" y1="415.5" x2="464.8" y2="417.1" stroke="#3a3a3a"/>
<line x1="498.6" y1="415.5" x2="498.6" y2="417.1" stroke="#3a3a3a"/>
<line x1="380.5" y1="390" x2="378.9" y2="390" stroke="#2a3af0"/>
<line x1="380.5" y1="354.5" x2="378.9" y2="354.5" stroke="#2a3af0"/>
<line x1="380.5" y1="319" x2="378.9" y2="319" stroke="#2a3af0"/>
<line x1="380.5" y1="407.75" x2="379.5" y2="407.75" stroke="#2a3af0"/>
<line x1="380.5" y1="372.25" x2="379.5" y2="372.25" stroke="#2a3af0"/>
<line x1="380.5" y1="336.75" x2="379.5" y2="336.75" stroke="#2a3af0"/>
<line x1="380.5" y1="301.25" x2="379.5" y2="301.25" stroke="#2a3af0"/>
<line x1="522.5" y1="399.1" x2="525.5" y2="399.1" stroke="#ff3030"/>
<line x1="522.5" y1="366.6" x2="525.5" y2="366.6" stroke="#ff3030"/>
<line x1="522.5" y1="334.1" x2="525.5" y2="334.1" stroke="#ff3030"/>
<line x1="522.5" y1="301.6" x2="525.5" y2="301.6" stroke="#ff3030"/>
<line x1="522.5" y1="382.85" x2="524.1" y2="382.85" stroke="#ff3030"/>
<line x1="522.5" y1="350.35" x2="524.1" y2="350.35" stroke="#ff3030"/>
<line x1="522.5" y1="317.85" x2="524.1" y2="317.85" stroke="#ff3030"/>
<text x="0" y="0" font-size="7" text-anchor="middle" transform="translate(380.3 426.85) scale(1 1.13)" stroke="#222" stroke-width="0.22">0</text>
<text x="0" y="0" font-size="7" text-anchor="middle" transform="translate(414.1 426.85) scale(1 1.13)" stroke="#222" stroke-width="0.22">5</text>
<text x="0" y="0" font-size="7" text-anchor="middle" transform="translate(447.9 426.85) scale(1 1.13)" stroke="#222" stroke-width="0.22">10</text>
<text x="0" y="0" font-size="7" text-anchor="middle" transform="translate(481.7 426.85) scale(1 1.13)" stroke="#222" stroke-width="0.22">15</text>
<text x="0" y="0" font-size="7" text-anchor="middle" transform="translate(515.5 426.85) scale(1 1.13)" stroke="#222" stroke-width="0.22">20</text>
<text x="0" y="0" font-size="7" text-anchor="end" fill="#2a3af0" transform="translate(377.4 392.85) scale(1 1.13)" stroke="#2a3af0" stroke-width="0.22">100</text>
<text x="0" y="0" font-size="7" text-anchor="end" fill="#2a3af0" transform="translate(377.4 357.35) scale(1 1.13)" stroke="#2a3af0" stroke-width="0.22">200</text>
<text x="0" y="0" font-size="7" text-anchor="end" fill="#2a3af0" transform="translate(377.4 321.85) scale(1 1.13)" stroke="#2a3af0" stroke-width="0.22">300</text>
<text x="0" y="0" font-size="7" fill="#ff3030" transform="translate(526 401.95) scale(1 1.13)" stroke="#ff3030" stroke-width="0.22">60</text>
<text x="0" y="0" font-size="7" fill="#ff3030" transform="translate(526 369.45) scale(1 1.13)" stroke="#ff3030" stroke-width="0.22">80</text>
<text x="0" y="0" font-size="7" fill="#ff3030" transform="translate(526 336.95) scale(1 1.13)" stroke="#ff3030" stroke-width="0.22">100</text>
<text x="0" y="0" font-size="7" fill="#ff3030" transform="translate(526 304.45) scale(1 1.13)" stroke="#ff3030" stroke-width="0.22">120</text>
<text x="358.4" y="305.1" font-size="8.6" stroke="#222" stroke-width="0.22">(i)</text>
<text x="364.9" y="358" font-size="8.6" text-anchor="middle" fill="#2a3af0" transform="rotate(-90 364.9 358)" stroke="#2a3af0" stroke-width="0.22">Specific capacitance (F g<tspan font-size="5.33" dy="-3.61">−1</tspan><tspan dy="3.61">)</tspan></text>
<text x="540.9" y="358" font-size="8.6" text-anchor="middle" fill="#ff3030" transform="rotate(90 540.9 358)" stroke="#ff3030" stroke-width="0.22">Coulombic efficiency (%)</text>
<text x="451.3" y="439.4" font-size="8.6" text-anchor="middle" fill="#222" stroke="#222" stroke-width="0.22">Current density (A g<tspan font-size="5.33" dy="-3.61">−1</tspan><tspan dy="3.61">)</tspan></text>
<text x="518" y="312.7" font-size="8.6" text-anchor="end" stroke="#222" stroke-width="0.22">CuCo<tspan font-size="5.33" dy="2.41">2</tspan><tspan dy="-2.41">O</tspan><tspan font-size="5.33" dy="2.41">4</tspan><tspan dy="-2.41">@NiMn LDH</tspan></text>
<line x1="387" y1="389" x2="396" y2="389" stroke="#2a3af0" stroke-width="0.9"/>
<circle cx="390.8" cy="389" r="2.3" fill="#2a3af0"/>
<text x="400" y="392.4" font-size="8.6" fill="#2a3af0" stroke="#2a3af0" stroke-width="0.22">Specific capacitance</text>
<line x1="387" y1="401.2" x2="396" y2="401.2" stroke="#ff3030" stroke-width="0.9"/>
<path d="M388.1,401.2 L392.1,399.2 L392.1,403.2 Z" stroke="none" stroke-width="0" fill="#ff3030" />
<text x="400" y="404.6" font-size="8.6" fill="#ff3030" stroke="#ff3030" stroke-width="0.22">Coulombic efficiency</text>
<defs>
<linearGradient id="koh" x1="0" y1="0" x2="0" y2="1"><stop offset="0" stop-color="#d8f2fc"/><stop offset="0.5" stop-color="#b6e5fa"/><stop offset="1" stop-color="#86d2f6"/></linearGradient>
<linearGradient id="kohx" x1="0" y1="0" x2="1" y2="0"><stop offset="0" stop-color="#fff" stop-opacity="0.25"/><stop offset="0.5" stop-color="#fff" stop-opacity="0"/><stop offset="1" stop-color="#fff" stop-opacity="0.15"/></linearGradient>
<linearGradient id="grn" x1="0" y1="0" x2="0" y2="1"><stop offset="0" stop-color="#62a046"/><stop offset="0.5" stop-color="#88bc70"/><stop offset="1" stop-color="#64a24a"/></linearGradient>
<linearGradient id="blk" x1="0" y1="0" x2="0" y2="1"><stop offset="0" stop-color="#5a5a5a"/><stop offset="0.5" stop-color="#262626"/><stop offset="1" stop-color="#484848"/></linearGradient>
<linearGradient id="capTop" x1="0" y1="0" x2="1" y2="1"><stop offset="0" stop-color="#f4f4f4"/><stop offset="1" stop-color="#d6d6d6"/></linearGradient>
<linearGradient id="capRim" x1="0" y1="0" x2="1" y2="0"><stop offset="0" stop-color="#7a7a7a"/><stop offset="0.4" stop-color="#a0a0a0"/><stop offset="0.68" stop-color="#e4e4e4"/><stop offset="0.9" stop-color="#9a9a9a"/><stop offset="1" stop-color="#6a6a6a"/></linearGradient>
<linearGradient id="cupWall" x1="0" y1="0" x2="1" y2="0"><stop offset="0" stop-color="#a8a8a8"/><stop offset="0.3" stop-color="#d8d8d8"/><stop offset="0.6" stop-color="#f2f2f2"/><stop offset="0.85" stop-color="#c0c0c0"/><stop offset="1" stop-color="#909090"/></linearGradient>
<linearGradient id="grnDisk" x1="0" y1="0" x2="0" y2="1"><stop offset="0" stop-color="#88b838"/><stop offset="1" stop-color="#bcdc58"/></linearGradient>
<linearGradient id="sepDisk" x1="0" y1="0" x2="0" y2="1"><stop offset="0" stop-color="#cacaca"/><stop offset="1" stop-color="#b8b8b8"/></linearGradient>
</defs>
<text x="2" y="11" font-size="8.6" stroke="#222" stroke-width="0.22">(a)</text>
<path d="M31.3,18.5 L31.3,13.5 L13.5,13.5 L13.5,58.5" stroke="#555" stroke-width="1" fill="none" />
<path d="M14.3,83 L14.3,120 L31.2,120 L31.2,111.5" stroke="#555" stroke-width="1" fill="none" />
<line x1="7.4" y1="57.2" x2="12" y2="57.2" stroke="#222" stroke-width="1.3"/>
<line x1="9.7" y1="54.9" x2="9.7" y2="59.5" stroke="#222" stroke-width="1.3"/>
<line x1="10.5" y1="85.6" x2="10.5" y2="89.4" stroke="#222" stroke-width="1.3"/>
<rect x="20.6" y="33" width="68.2" height="74.3" fill="url(#koh)"/>
<rect x="20.6" y="33" width="68.2" height="74.3" fill="url(#kohx)"/>
<rect x="20.6" y="28" width="68.2" height="5" fill="url(#grn)"/>
<line x1="35" y1="30.6" x2="75" y2="30.6" stroke="#a8d890" stroke-width="0.6"/>
<rect x="20.6" y="107.3" width="68.2" height="4.3" fill="url(#blk)"/>
<line x1="32" y1="109.5" x2="80" y2="109.5" stroke="#666" stroke-width="0.5"/>
<text x="22.2" y="25.83" font-size="7.3" stroke="#222" stroke-width="0.22">CuCo<tspan font-size="4.53" dy="2.04">2</tspan><tspan dy="-2.04">O</tspan><tspan font-size="4.53" dy="2.04">4</tspan><tspan dy="-2.04">@NiMn LDH</tspan></text>
<text x="45.7" y="54.56" font-size="7.1" fill="#3a6cb4" stroke="#3a6cb4" stroke-width="0.22">KOH</text>
<text x="45.2" y="96.06" font-size="7.1" fill="#3a6cb4" stroke="#3a6cb4" stroke-width="0.22">KOH</text>
<text x="37.4" y="119.23" font-size="7.3" stroke="#222" stroke-width="0.22">Active Carbon</text>
<line x1="27" y1="70.3" x2="88.8" y2="70.3" stroke="#e2c8b4" stroke-width="0.8"/>
<line x1="103.5" y1="70.3" x2="109.5" y2="70.3" stroke="#aaa" stroke-width="0.6" stroke-dasharray="1,1"/>
<circle cx="92.8" cy="70.3" r="0.7" fill="#222"/>
<circle cx="101.6" cy="70.3" r="0.7" fill="#222"/>
<text x="100.21" y="70" font-size="7.8" text-anchor="middle" fill="#222" transform="rotate(-90 100.21 70)" stroke="#222" stroke-width="0.22">Separator</text>
<rect x="6.9" y="61.4" width="18.9" height="18.3" rx="1.6" fill="#fefefa" stroke="#f2ec80" stroke-width="1.5"/>
<circle cx="15.4" cy="69.6" r="4.3" fill="#f4f0ee" stroke="#d0c4c0" stroke-width="0.6"/>
<circle cx="15.6" cy="69.3" r="1.7" fill="#dcc4c4" stroke="#b8a8a8" stroke-width="0.4"/>
<circle cx="22.5" cy="71.0" r="2.1" fill="#e0a020"/>
<text x="106.6" y="26.18" font-size="8.0" fill="#333" stroke="#333" stroke-width="0.22">positive electrode</text>
<path d="M110.1,36.2 L110.1,40.8 A26.5,6.4 0 0 0 163.1,40.8 L163.1,36.2 Z" fill="url(#capRim)"/>
<ellipse cx="136.6" cy="36.2" rx="26.5" ry="6.4" fill="url(#capTop)" stroke="#b0b0b0" stroke-width="0.6"/>
<path d="M114,56.8 L114,58.3 A23,7 0 0 0 160,58.3 L160,56.8 Z" fill="#dcee30"/>
<ellipse cx="137" cy="56.8" rx="23" ry="7" fill="url(#grnDisk)"/>
<text x="103.0" y="55.73" font-size="7.3" font-weight="bold" fill="#1a1a1a" stroke="#1a1a1a" stroke-width="0.22">CuCo<tspan font-size="4.53" dy="2.04">2</tspan><tspan dy="-2.04">O</tspan><tspan font-size="4.53" dy="2.04">4</tspan><tspan dy="-2.04">@NiMn LDH</tspan></text>
<ellipse cx="137.3" cy="71.4" rx="27.3" ry="6.7" fill="url(#sepDisk)"/>
<ellipse cx="136.1" cy="92.2" rx="28" ry="6.6" fill="#c8c8c8"/>
<path d="M108.1,92.2 A28,6.6 0 0 0 164.1,92.2 L164.1,100.6 A28,6.6 0 0 1 108.1,100.6 Z" fill="url(#cupWall)"/>
<ellipse cx="136.1" cy="93.4" rx="25.8" ry="4.9" fill="#fbfbfb"/>
<ellipse cx="135.9" cy="88.5" rx="18.7" ry="5.6" fill="#4a8ee0"/>
<ellipse cx="135.9" cy="87.8" rx="18.5" ry="5.5" fill="#303030"/>
<text x="136.2" y="88.28" font-size="6.9" text-anchor="middle" fill="#fff" font-weight="bold" stroke="#fff" stroke-width="0.22">AC</text>
<text x="106" y="121.08" font-size="8.0" fill="#333" stroke="#333" stroke-width="0.22">negative electrode</text>
</svg>
</body></html>
